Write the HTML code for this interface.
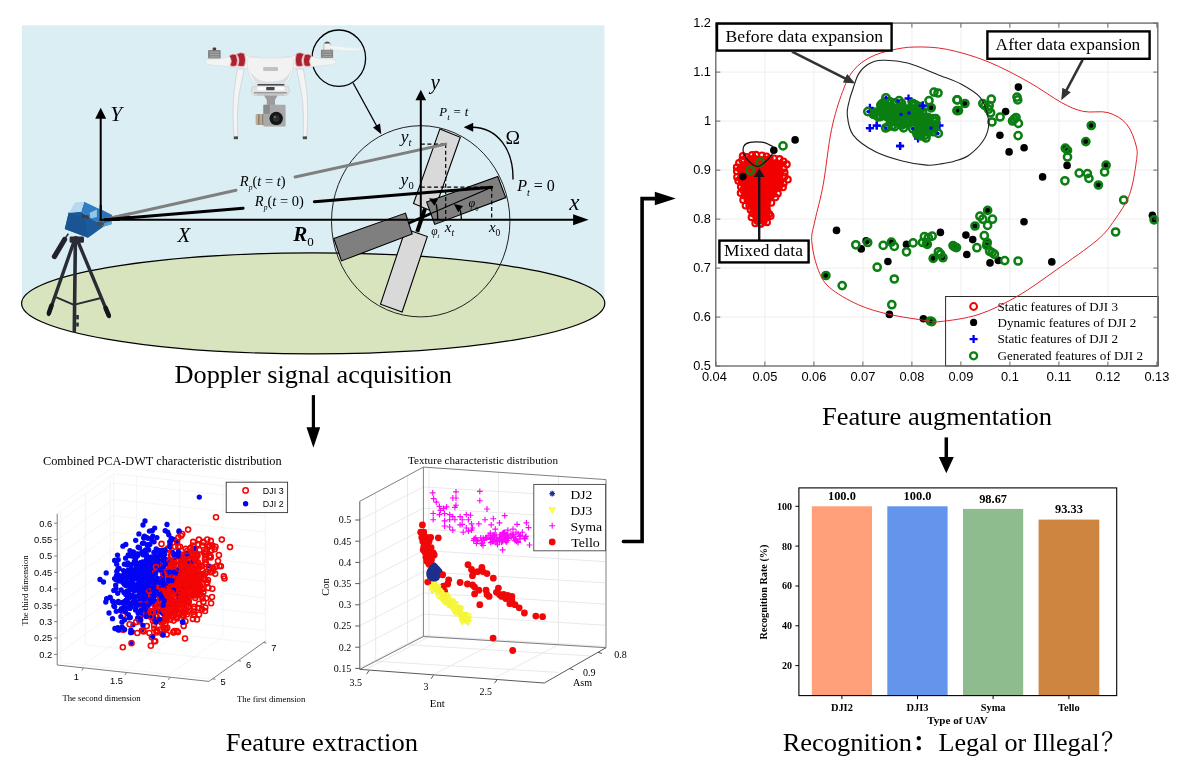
<!DOCTYPE html>
<html lang="en">
<head>
<meta charset="utf-8">
<title>UAV recognition pipeline</title>
<style>
html,body{margin:0;padding:0;background:#fff;}
body{width:1186px;height:772px;overflow:hidden;}
svg{display:block;}
text{font-family:"Liberation Serif", "Noto Serif CJK SC", serif;fill:#000;}
.sa{font-family:"Liberation Sans", sans-serif;}
.it{font-style:italic;}
</style>
</head>
<body>
<svg width="1186" height="772" viewBox="0 0 1186 772">
<g id="doppler">
<rect x="21.9" y="25.3" width="582.6" height="278.5" fill="#DBEEF4"/>
<ellipse cx="313.2" cy="303.4" rx="291.6" ry="50.5" fill="#D7E4BD" stroke="#000" stroke-width="1.2"/>
<ellipse cx="420.7" cy="221.3" rx="89.2" ry="95.6" fill="none" stroke="#222" stroke-width="1"/>
<polygon points="439.9,128.9 460.3,137.3 433.9,211.9 413.5,203.5" fill="#D9D9D9" stroke="#000" stroke-width="1.1" stroke-linejoin="miter"/>
<polygon points="405.6,229 427.3,236.6 402.1,312 380.5,304.2" fill="#D9D9D9" stroke="#000" stroke-width="1.1" stroke-linejoin="miter"/>
<polygon points="426.7,202.1 497.8,176.5 505.7,197.6 434.7,224.4" fill="#7F7F7F" stroke="#000" stroke-width="1.1"/>
<polygon points="333.8,238.5 405.5,213.1 412.2,234 341.5,260.9" fill="#7F7F7F" stroke="#000" stroke-width="1.1"/>
<line x1="420.8" y1="187.2" x2="491.7" y2="187.2" stroke="#000" stroke-width="1.2" stroke-dasharray="4 2.6"/>
<line x1="491.7" y1="187.2" x2="491.7" y2="219.8" stroke="#000" stroke-width="1.2" stroke-dasharray="4 2.6"/>
<line x1="420.8" y1="144.1" x2="445.7" y2="144.1" stroke="#000" stroke-width="1.2" stroke-dasharray="4 2.6"/>
<line x1="445.7" y1="144.1" x2="445.7" y2="219.8" stroke="#000" stroke-width="1.2" stroke-dasharray="4 2.6"/>
<line x1="108" y1="218.7" x2="236" y2="190.2" stroke="#7f7f7f" stroke-width="3" stroke-linecap="round"/>
<line x1="295.1" y1="177" x2="445.7" y2="144.1" stroke="#7f7f7f" stroke-width="3" stroke-linecap="round"/>
<line x1="108" y1="219.4" x2="243.1" y2="208.2" stroke="#000" stroke-width="3" stroke-linecap="round"/>
<line x1="314.3" y1="201.7" x2="491.7" y2="187.2" stroke="#000" stroke-width="3" stroke-linecap="round"/>
<line x1="408.4" y1="223.3" x2="491.7" y2="187.2" stroke="#000" stroke-width="1.2"/>
<line x1="408.4" y1="223.3" x2="431" y2="213.5" stroke="#000" stroke-width="2.8"/>
<line x1="425" y1="208.6" x2="417.2" y2="231.9" stroke="#000" stroke-width="4"/>
<line x1="100.7" y1="220.6" x2="100.7" y2="117" stroke="#000" stroke-width="2"/>
<polygon points="100.7,107.8 106.2,118.8 95.2,118.8" fill="#000"/>
<line x1="99.7" y1="219.8" x2="574" y2="219.8" stroke="#000" stroke-width="2"/>
<polygon points="588.6,219.8 573.1,225.3 573.1,214.3" fill="#000"/>
<line x1="420.8" y1="221" x2="420.8" y2="99" stroke="#000" stroke-width="2"/>
<polygon points="420.8,89.8 426.1,100.3 415.5,100.3" fill="#000"/>
<path d="M437.8 219.8 Q437.7 211 436.2 204" fill="none" stroke="#000" stroke-width="1.3"/>
<polygon points="428.9,198.3 438.1,198.9 434.4,205.8" fill="#000"/>
<path d="M461.4 219.8 Q461.3 214 460.2 210" fill="none" stroke="#000" stroke-width="1.3"/>
<polygon points="453.9,204.1 463,206.1 458.2,212.3" fill="#000"/>
<path d="M513 179.4 C513.5 150 498 127.5 472 127.2" fill="none" stroke="#000" stroke-width="1.4"/>
<polygon points="463.7,127.2 473.2,122.7 473.2,131.7" fill="#000"/>
<ellipse cx="338.8" cy="58.2" rx="26.8" ry="28.2" fill="none" stroke="#000" stroke-width="1.3"/>
<line x1="353" y1="82.7" x2="377.5" y2="127.5" stroke="#000" stroke-width="1.3"/>
<polygon points="381.3,134.3 373,127.5 380,123.6" fill="#000"/>
<g id="drone">
<path d="M 237.4 69 L 244.2 69 C 242.5 78 239 92 238 104 C 237.2 116 237.2 128 237.7 137.2 L 234.1 137.2 C 233 124 232.8 112 233.4 100 C 234 88 236 78 237.4 69 Z" fill="#f4f4f4" stroke="#ccd3d7" stroke-width=".8"/>
<path d="M 303.4 69 L 296.6 69 C 298.3 78 301.8 92 302.8 104 C 303.6 116 303.6 128 303.1 137.2 L 306.7 137.2 C 307.8 124 308 112 307.4 100 C 306.8 88 304.8 78 303.4 69 Z" fill="#f4f4f4" stroke="#ccd3d7" stroke-width=".8"/>
<path d="M 233.8 136.4 L 238 136.4 L 238 139.2 L 233.8 139.2 Z" fill="#4a4a4a"/>
<path d="M 307 136.4 L 302.8 136.4 L 302.8 139.2 L 307 139.2 Z" fill="#4a4a4a"/>
<path d="M 206.4 59.4 L 222 58.2 L 229 56.6 L 246 55.4 L 252 57 L 252 68.6 L 243 68.2 L 226 66.4 L 208 64.6 L 204.6 62.6 Z" fill="#f3f3f3" stroke="#d5dbde" stroke-width=".6"/>
<path d="M 334.4 59.4 L 318.8 58.2 L 311.8 56.6 L 294.8 55.4 L 288.8 57 L 288.8 68.6 L 297.8 68.2 L 314.8 66.4 L 332.8 64.6 L 336.2 62.6 Z" fill="#f3f3f3" stroke="#d5dbde" stroke-width=".6"/>
<path d="M247.2 62 C247.2 57.6 250 56 254.4 56.4 L260 57.8 L281 57.8 L286.4 56.4 C290.8 56 293.6 57.6 293.6 62 C293.6 75 288.6 84.6 281.6 84.6 L259.2 84.6 C252.2 84.6 247.2 75 247.2 62 Z" fill="#f2f2f2" stroke="#d6dcdf" stroke-width=".7"/>
<path d="M250 70 C252 79 256 84 260 84.6 L281 84.6 C285 84 289 79 291 70 C287 78 282 81.8 270.5 81.8 C259 81.8 254 78 250 70 Z" fill="#dcdfe1"/>
<path d="M 250.4 56.6 L 257 55.8 L 258.4 57.6 L 251 58 Z" fill="#dfe3e5"/>
<path d="M 290.4 56.6 L 283.8 55.8 L 282.4 57.6 L 289.8 58 Z" fill="#dfe3e5"/>
<rect x="263.2" y="67" width="14.8" height="4" rx=".8" fill="#c2c2c2"/>
<rect x="208" y="49.9" width="12.7" height="8.6" rx="1" fill="#858585"/>
<path d="M209.6 52.2h9.6M209.6 54.6h9.6M209.6 57h9.6" stroke="#a9a9a9" stroke-width="1"/>
<rect x="212.6" y="47.6" width="3.6" height="2.6" rx="1" fill="#3f3f3f"/>
<rect x="320.9" y="49.8" width="12.2" height="8.2" rx="1" fill="#858585"/>
<path d="M322.4 52h9.4M322.4 54.4h9.4M322.4 56.8h9.4" stroke="#a9a9a9" stroke-width="1"/>
<path d="M323.8 50 L323.8 44.2 C323.8 41.6 330.6 41.6 330.6 44.2 L330.6 50 Z" fill="#f0f0f0" stroke="#9a9a9a" stroke-width=".6"/>
<path d="M324.4 43.6 C324.6 41.2 329.8 41.2 330 43.6 Z" fill="#4a4a4a"/>
<path d="M329.5 45.6 L345 47.2 L360.4 48.8 L360.6 50.6 L344 50.6 L329.8 48.4 Z" fill="#f4f6f6" stroke="#e3eaed" stroke-width=".5"/>
<path d="M 229 55.8 Q 232.8 53 236.2 54.6 Q 238.6 60.4 236.6 65.8 Q 233 67.2 229.8 65.6 Q 232.8 60.6 229 55.8 Z" fill="#a8232f" stroke="#f0c4ca" stroke-width=".8"/>
<path d="M 311.8 55.8 Q 308 53 304.6 54.6 Q 302.2 60.4 304.2 65.8 Q 307.8 67.2 311 65.6 Q 308 60.6 311.8 55.8 Z" fill="#a8232f" stroke="#f0c4ca" stroke-width=".8"/>
<path d="M 236.6 54 Q 240.6 51.6 244.4 53.4 Q 246.6 60 244.6 65.9 Q 240.8 67.2 237.6 65.8 Q 240.6 60 236.6 54 Z" fill="#a8232f" stroke="#f0c4ca" stroke-width=".8"/>
<path d="M 304.2 54 Q 300.2 51.6 296.4 53.4 Q 294.2 60 296.2 65.9 Q 300 67.2 303.2 65.8 Q 300.2 60 304.2 54 Z" fill="#a8232f" stroke="#f0c4ca" stroke-width=".8"/>
<rect x="257.4" y="84" width="27" height="1.6" fill="#4d4d4d"/>
<path d="M252.4 86.6 L288.4 86.6 L289.8 91.4 L286.6 95.6 L254.2 95.6 L251 91.4 Z" fill="#e2e2e2" stroke="#bfc5c8" stroke-width=".6"/>
<rect x="257.4" y="86.4" width="27" height="4.2" rx="1" fill="#fbfbfb"/>
<rect x="266.2" y="87" width="8.4" height="3.2" rx=".6" fill="#454545"/>
<rect x="254" y="92" width="33" height="1.6" fill="#9c9c9c"/>
<rect x="257" y="94" width="27" height="1.4" fill="#c8c8c8"/>
<path d="M264 95.6 L277.5 95.6 L275 100 L275 106.5 L266.8 106.5 L266.8 100 Z" fill="#9b9b9b"/>
<rect x="255.6" y="114" width="11.6" height="11" rx="1.5" fill="#b9ab96"/>
<rect x="258" y="114" width="1.6" height="11" fill="#8f8271"/><rect x="262" y="114" width="1.6" height="11" fill="#8f8271"/>
<rect x="263.4" y="104.8" width="22.2" height="21.8" rx="1.2" fill="#a9a9a9"/>
<rect x="263.4" y="104.8" width="6.5" height="9" fill="#8b8b8b"/>
<circle cx="276.2" cy="118.4" r="6.7" fill="#161616"/><circle cx="276.2" cy="118.4" r="3.4" fill="#2d2d33"/><circle cx="274.8" cy="116.9" r="1" fill="#777"/>
</g>
<g id="radar">
<line x1="75.2" y1="238" x2="48.6" y2="314.5" stroke="#2a2c35" stroke-width="3.4" stroke-linecap="round"/>
<line x1="75.4" y1="238" x2="74.3" y2="331" stroke="#2a2c35" stroke-width="3.6" stroke-linecap="round"/>
<line x1="76.5" y1="238" x2="109.2" y2="316.6" stroke="#2a2c35" stroke-width="3.4" stroke-linecap="round"/>
<line x1="55.8" y1="297.2" x2="73.4" y2="304.6" stroke="#2a2c35" stroke-width="2"/>
<line x1="74.6" y1="304.6" x2="100" y2="298.2" stroke="#2a2c35" stroke-width="2"/>
<rect x="76.2" y="315" width="2.6" height="4.4" fill="#2a2c35"/><rect x="76.2" y="322.5" width="2.6" height="4" fill="#2a2c35"/>
<line x1="48.9" y1="313" x2="51.5" y2="305.5" stroke="#15161b" stroke-width="4.6" stroke-linecap="round"/>
<line x1="108.8" y1="315.5" x2="105.6" y2="308" stroke="#15161b" stroke-width="4.6" stroke-linecap="round"/>
<rect x="69.6" y="236.4" width="14.4" height="6.4" rx="1.4" fill="#2a2c35"/>
<line x1="68.4" y1="233.6" x2="64.4" y2="239.5" stroke="#2a2c35" stroke-width="1.6"/>
<line x1="64.6" y1="239.5" x2="54.4" y2="256.6" stroke="#22232a" stroke-width="5.2" stroke-linecap="round"/>
<polygon points="68.7,212.6 81.1,211.8 97,222 103.7,226.5 88.1,237.8 64.8,229" fill="#1c5b9b"/>
<polygon points="68.7,212.6 85,219.4 88.1,237.8 64.8,229" fill="#1a5492"/>
<polygon points="84.2,201.7 97.4,207.9 101.3,209.4 99,223.4 81.1,211.8" fill="#2f7ec4"/>
<polygon points="74.9,202.4 84.2,201.7 81.1,211.8 69.2,212.8" fill="#b7d8ee"/>
<polygon points="89.7,212.8 96.9,209.6 96.9,217 90.4,218.4" fill="#93c6e8"/>
<polygon points="101.3,209.4 112.2,214.9 111.4,224.2 103.7,226.5 98.6,223" fill="#2a72b5"/>
<polygon points="104,223.4 111.5,221.2 111.4,224.2 103.7,226.5" fill="#5f9fd0"/>
<polygon points="81.2,214.2 88.8,215.6 88.6,219 81.4,217.8" fill="#3c3f45"/>
<polygon points="96.7,222 103.6,222.6 103.4,225.4 97,224.6" fill="#54463f"/>
</g>
<line x1="100.7" y1="220.6" x2="100.7" y2="205" stroke="#000" stroke-width="2"/>
<line x1="99.7" y1="219.8" x2="120" y2="219.8" stroke="#000" stroke-width="2"/>
<line x1="108" y1="218.7" x2="130" y2="213.8" stroke="#7f7f7f" stroke-width="3"/>
<line x1="104" y1="219.7" x2="130" y2="217.6" stroke="#000" stroke-width="3"/>
<text x="110.2" y="121.4" font-size="21.5" font-style="italic">Y</text>
<text x="177.6" y="241.8" font-size="21" font-style="italic">X</text>
<text x="293.2" y="240.6" font-size="21" font-weight="bold" font-style="italic">R<tspan font-size="13" dy="5.4" font-style="normal" font-weight="normal">0</tspan></text>
<text x="569.2" y="209.6" font-size="23" font-style="italic">x</text>
<text x="430.4" y="88.6" font-size="21" font-style="italic">y</text>
<text x="439.3" y="116.3" font-size="12.8" font-style="italic">P<tspan font-size="9" dy="3.4">t</tspan><tspan dy="-3.4"> = t</tspan></text>
<text x="505.6" y="144.1" font-size="19.5">&#937;</text>
<text x="517.2" y="191.2" font-size="16" font-style="italic">P<tspan font-size="10" dy="4.6">t</tspan><tspan dy="-4.6" font-style="normal"> = 0</tspan></text>
<text x="400.8" y="141.6" font-size="17.5" font-style="italic">y<tspan font-size="10.5" dy="4.4">t</tspan></text>
<text x="400.6" y="185" font-size="17.5" font-style="italic">y<tspan font-size="10.5" dy="4" font-style="normal">0</tspan></text>
<text x="444.8" y="231.5" font-size="15" font-style="italic">x<tspan font-size="9.5" dy="4.2">t</tspan></text>
<text x="488.9" y="231.5" font-size="15" font-style="italic">x<tspan font-size="9.5" dy="4.6" font-style="normal">0</tspan></text>
<text x="431.2" y="235.2" font-size="11.5" font-style="italic">&#966;<tspan font-size="6.5" dy="3.2">t</tspan></text>
<text x="468.6" y="207.4" font-size="12" font-style="italic" fill="#222">&#966;<tspan font-size="6.5" dy="3.2" font-style="normal">0</tspan></text>
<text x="239.8" y="185.5" font-size="14.5" font-style="italic">R<tspan font-size="7.5" dy="4">p</tspan><tspan dy="-4" font-style="normal">(</tspan>t<tspan font-style="normal"> = </tspan>t<tspan font-style="normal">)</tspan></text>
<text x="254.8" y="205.8" font-size="14.5" font-style="italic">R<tspan font-size="7.5" dy="4">p</tspan><tspan dy="-4" font-style="normal">(</tspan>t<tspan font-style="normal"> = 0)</tspan></text>
<text x="174.5" y="382.6" font-size="24.5" textLength="277.5" lengthAdjust="spacingAndGlyphs">Doppler signal acquisition</text>
</g>
<g id="augment">
<rect x="715.8" y="23.1" width="442" height="342.9" fill="#fff"/>
<path d="M764.9 23.1V366M813.9 23.1V366M862.9 23.1V366M911.9 23.1V366M960.9 23.1V366M1009.9 23.1V366M1058.9 23.1V366M1107.9 23.1V366M715.8 317.1H1157.8M715.8 268.1H1157.8M715.8 219.1H1157.8M715.8 170.1H1157.8M715.8 121.1H1157.8M715.8 72.1H1157.8" stroke="#eeeeee" stroke-width="1" fill="none"/>
<path d="M744.4 159.4C745.8 158.6 749.7 157.9 752.3 157.6C754.8 157.3 757.2 157.3 759.7 157.6C762.1 157.9 764.9 158.8 767 159.4C769.2 159.9 770.2 160.9 772.3 161.1C774.4 161.3 777.9 159.4 779.7 160.5C781.5 161.7 782.5 165.9 782.9 168.1C783.2 170.4 781.5 171.9 781.8 174C782.1 176 784.4 178.2 784.4 180.4C784.4 182.5 782.9 185.2 781.8 186.8C780.7 188.5 778.5 188.8 777.6 190.3C776.7 191.9 777.4 194.6 776.5 196.2C775.7 197.7 773.5 198.1 772.3 199.7C771.1 201.2 769.5 203.6 769.2 205.5C768.8 207.5 770.4 209.6 770.2 211.3C770 213.1 769.3 214.7 768.1 216C766.9 217.4 764.6 218.7 762.8 219.5C761.1 220.3 759 221.3 757.6 220.7C756.2 220.1 755.3 217.8 754.4 216C753.5 214.3 753.3 211.9 752.3 210.2C751.2 208.4 749.3 207.5 748.1 205.5C746.8 203.6 745.8 200.8 744.9 198.5C744 196.2 743.2 193.8 742.8 191.5C742.4 189.2 742.6 186.6 742.3 184.5C741.9 182.3 741.1 180.8 740.7 178.6C740.3 176.5 739.5 173.6 739.6 171.6C739.8 169.7 741 168.5 741.7 167C742.5 165.4 743.4 163.6 743.9 162.3C744.3 161 743 160.1 744.4 159.4Z" fill="#f20000"/>
<g fill="none" stroke="#f20000" stroke-width="2.1">
<circle cx="750" cy="159" r="2.95"/><circle cx="743.2" cy="200" r="2.95"/><circle cx="783.5" cy="161.5" r="2.95"/><circle cx="767.5" cy="200.9" r="2.95"/><circle cx="744.6" cy="195.4" r="2.95"/><circle cx="763.7" cy="221.3" r="2.95"/><circle cx="779.5" cy="159.1" r="2.95"/><circle cx="749.3" cy="205.8" r="2.95"/><circle cx="736.8" cy="167.3" r="2.95"/><circle cx="742.2" cy="160" r="2.95"/><circle cx="769.8" cy="158.8" r="2.95"/><circle cx="764.2" cy="213" r="2.95"/><circle cx="745.6" cy="205.6" r="2.95"/><circle cx="743" cy="165.5" r="2.95"/><circle cx="779" cy="187.1" r="2.95"/><circle cx="757.5" cy="221" r="2.95"/><circle cx="741.3" cy="173.4" r="2.95"/><circle cx="746.4" cy="157.1" r="2.95"/><circle cx="783.7" cy="168.2" r="2.95"/><circle cx="766.8" cy="206.2" r="2.95"/><circle cx="777.8" cy="193.4" r="2.95"/><circle cx="740.9" cy="186.8" r="2.95"/><circle cx="783.7" cy="183.2" r="2.95"/><circle cx="761.7" cy="217.8" r="2.95"/><circle cx="759.2" cy="159.5" r="2.95"/><circle cx="787.8" cy="179.5" r="2.95"/><circle cx="737.1" cy="177" r="2.95"/><circle cx="753.3" cy="179.8" r="2.95"/><circle cx="740.9" cy="178.1" r="2.95"/><circle cx="755.9" cy="215.8" r="2.95"/><circle cx="752.6" cy="213.3" r="2.95"/><circle cx="772.3" cy="163.5" r="2.95"/><circle cx="752.1" cy="155.1" r="2.95"/><circle cx="761.9" cy="155.5" r="2.95"/><circle cx="775.2" cy="189" r="2.95"/><circle cx="764.9" cy="159.8" r="2.95"/><circle cx="784.7" cy="176.5" r="2.95"/><circle cx="771.3" cy="202.7" r="2.95"/><circle cx="780.4" cy="164.1" r="2.95"/><circle cx="775.4" cy="197.3" r="2.95"/><circle cx="756" cy="154.8" r="2.95"/><circle cx="774" cy="158.5" r="2.95"/><circle cx="776.4" cy="162.9" r="2.95"/><circle cx="767" cy="210.2" r="2.95"/><circle cx="736.9" cy="171.2" r="2.95"/><circle cx="743.1" cy="190.1" r="2.95"/><circle cx="757.9" cy="199.7" r="2.95"/><circle cx="772" cy="191.7" r="2.95"/><circle cx="739" cy="163" r="2.95"/><circle cx="750.5" cy="209.7" r="2.95"/><circle cx="741.7" cy="182.4" r="2.95"/><circle cx="756.4" cy="196.2" r="2.95"/><circle cx="740.5" cy="169.3" r="2.95"/><circle cx="767.1" cy="217" r="2.95"/><circle cx="747.6" cy="200.2" r="2.95"/><circle cx="770.1" cy="197.1" r="2.95"/><circle cx="786.8" cy="164.3" r="2.95"/><circle cx="780.1" cy="171.9" r="2.95"/><circle cx="740.7" cy="193" r="2.95"/><circle cx="754.4" cy="158.8" r="2.95"/><circle cx="750" cy="198.2" r="2.95"/><circle cx="755.9" cy="210.6" r="2.95"/><circle cx="782.9" cy="187.3" r="2.95"/><circle cx="760.5" cy="178" r="2.95"/><circle cx="761.6" cy="201.3" r="2.95"/><circle cx="751.7" cy="199" r="2.95"/><circle cx="784.6" cy="172.6" r="2.95"/><circle cx="760.7" cy="223.8" r="2.95"/><circle cx="760.8" cy="173.9" r="2.95"/><circle cx="774.7" cy="183.1" r="2.95"/><circle cx="763.4" cy="176.5" r="2.95"/><circle cx="759.8" cy="205.5" r="2.95"/><circle cx="764.3" cy="178.2" r="2.95"/><circle cx="768.9" cy="191.3" r="2.95"/><circle cx="772.4" cy="184.7" r="2.95"/><circle cx="775.3" cy="165.9" r="2.95"/><circle cx="769.7" cy="191.1" r="2.95"/><circle cx="751.3" cy="185.1" r="2.95"/><circle cx="757.3" cy="166" r="2.95"/><circle cx="773.8" cy="184.1" r="2.95"/><circle cx="750.6" cy="195.6" r="2.95"/><circle cx="774" cy="166.5" r="2.95"/><circle cx="766.4" cy="167.1" r="2.95"/><circle cx="759.6" cy="213.9" r="2.95"/><circle cx="749.5" cy="161.1" r="2.95"/><circle cx="768.6" cy="168.3" r="2.95"/><circle cx="777.5" cy="183.2" r="2.95"/><circle cx="763.2" cy="181" r="2.95"/><circle cx="763.2" cy="177" r="2.95"/><circle cx="761.7" cy="186.2" r="2.95"/><circle cx="755.1" cy="167" r="2.95"/><circle cx="765.3" cy="166.8" r="2.95"/><circle cx="751.2" cy="185.1" r="2.95"/><circle cx="760.9" cy="191.6" r="2.95"/><circle cx="750.6" cy="167.1" r="2.95"/><circle cx="746.8" cy="191.8" r="2.95"/><circle cx="768.2" cy="162.5" r="2.95"/><circle cx="750.8" cy="168" r="2.95"/><circle cx="763.2" cy="208.6" r="2.95"/><circle cx="742.8" cy="156.1" r="2.95"/><circle cx="766.6" cy="156.4" r="2.95"/><circle cx="769.6" cy="180" r="2.95"/><circle cx="768.9" cy="189.3" r="2.95"/><circle cx="745.9" cy="167.3" r="2.95"/><circle cx="744.8" cy="184.9" r="2.95"/><circle cx="748.2" cy="166" r="2.95"/><circle cx="769.3" cy="214" r="2.95"/><circle cx="761.4" cy="215.5" r="2.95"/><circle cx="752.8" cy="203.1" r="2.95"/><circle cx="768.1" cy="168" r="2.95"/><circle cx="766.4" cy="165.4" r="2.95"/><circle cx="738.3" cy="180.8" r="2.95"/><circle cx="744.8" cy="165.8" r="2.95"/><circle cx="757.7" cy="195.8" r="2.95"/><circle cx="770.2" cy="188.2" r="2.95"/><circle cx="755.5" cy="198.8" r="2.95"/><circle cx="757.4" cy="193.9" r="2.95"/><circle cx="748.3" cy="198.1" r="2.95"/><circle cx="753.7" cy="207.3" r="2.95"/><circle cx="744.7" cy="177.1" r="2.95"/><circle cx="759.6" cy="213.1" r="2.95"/><circle cx="749.5" cy="190.4" r="2.95"/><circle cx="758" cy="191" r="2.95"/><circle cx="768.7" cy="172.7" r="2.95"/><circle cx="752.5" cy="199.6" r="2.95"/><circle cx="766" cy="179.5" r="2.95"/><circle cx="762.1" cy="162.1" r="2.95"/><circle cx="767.5" cy="188.6" r="2.95"/><circle cx="779.6" cy="174.3" r="2.95"/><circle cx="758.2" cy="200.6" r="2.95"/><circle cx="760.1" cy="199.9" r="2.95"/><circle cx="772" cy="169.5" r="2.95"/><circle cx="757.2" cy="202.1" r="2.95"/><circle cx="760.1" cy="215" r="2.95"/><circle cx="758" cy="183.9" r="2.95"/><circle cx="761.7" cy="199.6" r="2.95"/><circle cx="762.4" cy="213.1" r="2.95"/><circle cx="754.5" cy="173.7" r="2.95"/><circle cx="763.6" cy="170.3" r="2.95"/><circle cx="771.7" cy="186.6" r="2.95"/><circle cx="743.3" cy="172.1" r="2.95"/><circle cx="752.1" cy="204.2" r="2.95"/><circle cx="747" cy="194.6" r="2.95"/><circle cx="755.3" cy="223.3" r="2.95"/><circle cx="767" cy="222.2" r="2.95"/><circle cx="761" cy="223.6" r="2.95"/><circle cx="751.6" cy="217.2" r="2.95"/><circle cx="770.6" cy="216" r="2.95"/><circle cx="764" cy="219" r="2.95"/><circle cx="757.5" cy="219" r="2.95"/>
</g>
<g fill="#000">
<circle cx="795.1" cy="139.9" r="3.8"/><circle cx="773.8" cy="150.3" r="3.8"/><circle cx="742.8" cy="176.6" r="3.8"/><circle cx="1018.4" cy="87.1" r="3.8"/><circle cx="1005.6" cy="111.6" r="3.8"/><circle cx="999.9" cy="135.3" r="3.8"/><circle cx="1024.1" cy="147.7" r="3.8"/><circle cx="1009.1" cy="151.9" r="3.8"/><circle cx="1042.6" cy="176.9" r="3.8"/><circle cx="1067.1" cy="165.4" r="3.8"/><circle cx="1152.4" cy="215.4" r="3.8"/><circle cx="836.5" cy="230.4" r="3.8"/><circle cx="861.2" cy="248.9" r="3.8"/><circle cx="866.1" cy="240.9" r="3.8"/><circle cx="906.5" cy="244.4" r="3.8"/><circle cx="940.4" cy="232.4" r="3.8"/><circle cx="887.9" cy="261.5" r="3.8"/><circle cx="889.4" cy="314.4" r="3.8"/><circle cx="923.4" cy="318.7" r="3.8"/><circle cx="965.9" cy="235.1" r="3.8"/><circle cx="972.7" cy="239.6" r="3.8"/><circle cx="966.8" cy="254.5" r="3.8"/><circle cx="990" cy="262.9" r="3.8"/><circle cx="998.3" cy="260.4" r="3.8"/><circle cx="1024" cy="221.7" r="3.8"/><circle cx="1051.8" cy="261.9" r="3.8"/>
<circle cx="964.3" cy="103.1" r="3.2"/><circle cx="957.9" cy="110.2" r="3.2"/><circle cx="930.6" cy="107.4" r="3.2"/><circle cx="1090.7" cy="125.1" r="3.2"/><circle cx="1085.2" cy="141.2" r="3.2"/><circle cx="1064.7" cy="147.8" r="3.2"/><circle cx="1066.9" cy="150" r="3.2"/><circle cx="1105.5" cy="164.8" r="3.2"/><circle cx="1097.8" cy="184.6" r="3.2"/><circle cx="1153.5" cy="219.4" r="3.2"/><circle cx="890.8" cy="241.7" r="3.2"/><circle cx="932.6" cy="258" r="3.2"/><circle cx="942.3" cy="257.3" r="3.2"/><circle cx="953.9" cy="246.4" r="3.2"/><circle cx="825.3" cy="275.1" r="3.2"/><circle cx="931.2" cy="321.2" r="3.2"/><circle cx="974.4" cy="225.6" r="3.2"/><circle cx="987" cy="210" r="3.2"/><circle cx="986.6" cy="242.1" r="3.2"/><circle cx="986.1" cy="245" r="3.2"/><circle cx="955.9" cy="247.2" r="3.2"/><circle cx="925.9" cy="243.2" r="3.2"/>
</g>
<path d="M865.9 128.1h8M869.9 124.1v8M872.8 125.6h8M876.8 121.6v8M896.1 146h8M900.1 142v8M918.7 105.6h8M922.7 101.6v8M915.1 115.6h8M919.1 111.6v8M865.9 107.8h8M869.9 103.8v8M868.8 112.8h8M872.8 108.8v8M904.5 98.5h8M908.5 94.5v8M935.5 125.5h8M939.5 121.5v8M914 138.5h8M918 134.5v8M927 128.5h8M931 124.5v8" stroke="#0000f5" stroke-width="2.3" fill="none"/>
<path d="M874.3 113.3C874.8 112.3 876.5 110.3 878 109.5C879.5 108.7 881.7 109.5 883.3 108.6C884.8 107.6 886.1 104.9 887.5 103.9C888.9 102.8 890.5 102 891.7 102C892.9 102 893.8 103.1 894.9 103.9C895.9 104.6 897.1 106.2 898 106.2C899 106.2 899.6 104.1 900.7 103.9C901.7 103.6 903.2 104.7 904.4 104.8C905.5 104.9 906.1 104.2 907.5 104.3C908.9 104.4 911.4 104.7 912.8 105.3C914.2 105.8 914.7 106.4 916 107.6C917.2 108.8 918.8 111.2 920.2 112.3C921.6 113.4 922.6 113.6 924.4 114.2C926.2 114.8 929.1 115.3 930.7 116.1C932.3 116.9 933.4 117.6 933.9 118.9C934.3 120.2 933.7 122 933.4 123.6C933 125.2 932.6 127.2 931.8 128.3C931 129.4 929.8 129.9 928.6 130.2C927.4 130.5 925.4 129.8 924.4 130.2C923.3 130.6 923.3 132.1 922.3 132.5C921.2 133 919.4 133.4 918.1 133C916.7 132.6 915.1 131.3 914.4 130.2C913.7 129.1 914.6 126.9 913.8 126.4C913.1 126 910.9 127.2 909.6 127.4C908.4 127.5 907.5 127 906.5 127.4C905.4 127.8 904.5 129.4 903.3 129.7C902.1 130 900.5 129.8 899.1 129.2C897.7 128.7 896.3 126.9 894.9 126.4C893.5 126 891.9 126.9 890.6 126.4C889.4 126 888.4 124.7 887.5 123.6C886.6 122.5 886.3 120.9 885.4 119.8C884.5 118.7 883.4 117.6 882.2 117C881 116.4 879.2 116.4 878 116.1C876.8 115.8 875.4 115.6 874.8 115.1C874.2 114.7 873.8 114.2 874.3 113.3Z" fill="#0b7f12"/>
<g fill="none" stroke="#0b7f12" stroke-width="2.5">
<circle cx="783" cy="145.9" r="3.6"/><circle cx="760.2" cy="162.4" r="3.6"/><circle cx="750.3" cy="170.3" r="3.6"/><circle cx="867.8" cy="111.6" r="3.6"/><circle cx="885.9" cy="97.8" r="3.6"/><circle cx="899.1" cy="100.6" r="3.6"/><circle cx="934" cy="92.1" r="3.6"/><circle cx="938" cy="93" r="3.6"/><circle cx="929" cy="100.6" r="3.6"/><circle cx="956.9" cy="99.9" r="3.6"/><circle cx="956.9" cy="110.6" r="3.6"/><circle cx="885.6" cy="128" r="3.6"/><circle cx="912.7" cy="128.7" r="3.6"/><circle cx="938.3" cy="133.4" r="3.6"/><circle cx="921" cy="136" r="3.6"/><circle cx="926" cy="138" r="3.6"/><circle cx="918" cy="132.5" r="3.6"/><circle cx="957.4" cy="99.9" r="3.6"/><circle cx="982.8" cy="103.5" r="3.6"/><circle cx="984.9" cy="105.6" r="3.6"/><circle cx="988.5" cy="109.2" r="3.6"/><circle cx="990.6" cy="112.8" r="3.6"/><circle cx="991.3" cy="99.2" r="3.6"/><circle cx="989.2" cy="105.6" r="3.6"/><circle cx="992" cy="122" r="3.6"/><circle cx="1000.1" cy="117" r="3.6"/><circle cx="1017" cy="97.1" r="3.6"/><circle cx="1017.7" cy="99.9" r="3.6"/><circle cx="1014.1" cy="119.2" r="3.6"/><circle cx="1016" cy="117.5" r="3.6"/><circle cx="1012.5" cy="121" r="3.6"/><circle cx="1018.4" cy="123.4" r="3.6"/><circle cx="1018.1" cy="135.6" r="3.6"/><circle cx="1067.5" cy="157" r="3.6"/><circle cx="1064.9" cy="180.8" r="3.6"/><circle cx="1079.2" cy="173.1" r="3.6"/><circle cx="1087.4" cy="173.6" r="3.6"/><circle cx="1088.9" cy="178.4" r="3.6"/><circle cx="1104.6" cy="172" r="3.6"/><circle cx="1123.7" cy="200" r="3.6"/><circle cx="1115.6" cy="232" r="3.6"/><circle cx="855.8" cy="244.8" r="3.6"/><circle cx="867.7" cy="242.5" r="3.6"/><circle cx="883.2" cy="245.4" r="3.6"/><circle cx="894.3" cy="246.4" r="3.6"/><circle cx="913.1" cy="242.9" r="3.6"/><circle cx="906.5" cy="251.8" r="3.6"/><circle cx="924.4" cy="236.7" r="3.6"/><circle cx="928.3" cy="237.6" r="3.6"/><circle cx="932.2" cy="236.1" r="3.6"/><circle cx="922.5" cy="242.5" r="3.6"/><circle cx="927.3" cy="244.4" r="3.6"/><circle cx="938.4" cy="251.8" r="3.6"/><circle cx="877.2" cy="267.2" r="3.6"/><circle cx="894.3" cy="279" r="3.6"/><circle cx="842.2" cy="285.6" r="3.6"/><circle cx="891.8" cy="304.7" r="3.6"/><circle cx="930.2" cy="321" r="3.6"/><circle cx="976.9" cy="247.7" r="3.6"/><circle cx="979.9" cy="216.2" r="3.6"/><circle cx="982.8" cy="219.2" r="3.6"/><circle cx="992.5" cy="219.2" r="3.6"/><circle cx="987.6" cy="225.4" r="3.6"/><circle cx="984.3" cy="235.7" r="3.6"/><circle cx="989.6" cy="251.2" r="3.6"/><circle cx="992.1" cy="252.6" r="3.6"/><circle cx="994.4" cy="254.2" r="3.6"/><circle cx="1004.7" cy="260.6" r="3.6"/><circle cx="1018.1" cy="261" r="3.6"/><circle cx="953" cy="245.6" r="3.6"/><circle cx="940.5" cy="254" r="3.6"/><circle cx="964.9" cy="103.5" r="3.6"/><circle cx="958.5" cy="110.6" r="3.6"/><circle cx="931.2" cy="107.8" r="3.6"/><circle cx="1091.3" cy="125.5" r="3.6"/><circle cx="1085.8" cy="141.6" r="3.6"/><circle cx="1065.3" cy="148.2" r="3.6"/><circle cx="1067.5" cy="150.4" r="3.6"/><circle cx="1106.1" cy="165.2" r="3.6"/><circle cx="1098.4" cy="185" r="3.6"/><circle cx="1154.1" cy="219.8" r="3.6"/><circle cx="891.4" cy="242.1" r="3.6"/><circle cx="933.2" cy="258.4" r="3.6"/><circle cx="942.9" cy="257.7" r="3.6"/><circle cx="954.5" cy="246.8" r="3.6"/><circle cx="825.9" cy="275.5" r="3.6"/><circle cx="931.8" cy="321.6" r="3.6"/><circle cx="975" cy="226" r="3.6"/><circle cx="987.6" cy="210.4" r="3.6"/><circle cx="987.2" cy="242.5" r="3.6"/><circle cx="986.7" cy="245.4" r="3.6"/><circle cx="956.5" cy="247.6" r="3.6"/><circle cx="926.5" cy="243.6" r="3.6"/><circle cx="890.5" cy="112.8" r="3.6"/><circle cx="933.4" cy="131.7" r="3.6"/><circle cx="925.6" cy="119.8" r="3.6"/><circle cx="919.4" cy="125.4" r="3.6"/><circle cx="921.9" cy="126.1" r="3.6"/><circle cx="878.3" cy="116.8" r="3.6"/><circle cx="894.3" cy="103.4" r="3.6"/><circle cx="895.2" cy="112.3" r="3.6"/><circle cx="919.6" cy="110.7" r="3.6"/><circle cx="880.6" cy="110.1" r="3.6"/><circle cx="912.3" cy="110.6" r="3.6"/><circle cx="911" cy="115.7" r="3.6"/><circle cx="923.9" cy="127" r="3.6"/><circle cx="899.8" cy="123.3" r="3.6"/><circle cx="887.9" cy="126.7" r="3.6"/><circle cx="919.6" cy="112.5" r="3.6"/><circle cx="917.7" cy="111.1" r="3.6"/><circle cx="887.2" cy="116.3" r="3.6"/><circle cx="889.6" cy="103.2" r="3.6"/><circle cx="901" cy="106.4" r="3.6"/><circle cx="890.4" cy="106.7" r="3.6"/><circle cx="917.5" cy="108.4" r="3.6"/><circle cx="903.6" cy="127.8" r="3.6"/><circle cx="912.1" cy="115.6" r="3.6"/><circle cx="931.6" cy="124.7" r="3.6"/><circle cx="926.1" cy="118" r="3.6"/><circle cx="874.1" cy="114.4" r="3.6"/><circle cx="909.2" cy="122.2" r="3.6"/><circle cx="915.5" cy="113.5" r="3.6"/><circle cx="885.9" cy="116" r="3.6"/><circle cx="920.1" cy="109.2" r="3.6"/><circle cx="891.5" cy="119.3" r="3.6"/><circle cx="892.5" cy="108.7" r="3.6"/><circle cx="894.8" cy="114.4" r="3.6"/><circle cx="889.7" cy="119.1" r="3.6"/><circle cx="920.3" cy="124.2" r="3.6"/><circle cx="928.6" cy="132.4" r="3.6"/><circle cx="877.1" cy="115.6" r="3.6"/><circle cx="923" cy="126.3" r="3.6"/><circle cx="882" cy="108.7" r="3.6"/><circle cx="933.7" cy="126.4" r="3.6"/><circle cx="930" cy="125.1" r="3.6"/><circle cx="906.6" cy="110.3" r="3.6"/><circle cx="891.7" cy="117.3" r="3.6"/><circle cx="910.1" cy="115.2" r="3.6"/><circle cx="880.8" cy="105.3" r="3.6"/><circle cx="898.6" cy="110.7" r="3.6"/><circle cx="918.4" cy="111.9" r="3.6"/><circle cx="916.5" cy="107.9" r="3.6"/><circle cx="916.5" cy="118" r="3.6"/><circle cx="892.4" cy="107.7" r="3.6"/><circle cx="919" cy="121.2" r="3.6"/><circle cx="893.5" cy="112.7" r="3.6"/><circle cx="912.5" cy="103.3" r="3.6"/><circle cx="899.2" cy="110.5" r="3.6"/><circle cx="884.3" cy="109.8" r="3.6"/><circle cx="933.2" cy="118.7" r="3.6"/><circle cx="913.3" cy="104.1" r="3.6"/><circle cx="892.7" cy="108.8" r="3.6"/><circle cx="888.2" cy="116.6" r="3.6"/><circle cx="915.4" cy="104.8" r="3.6"/><circle cx="884.1" cy="102.7" r="3.6"/><circle cx="918.9" cy="126.7" r="3.6"/><circle cx="918.6" cy="114.3" r="3.6"/><circle cx="894.5" cy="102.8" r="3.6"/><circle cx="922.6" cy="111.3" r="3.6"/><circle cx="894.1" cy="110.7" r="3.6"/><circle cx="880.5" cy="116.6" r="3.6"/><circle cx="882.7" cy="109" r="3.6"/><circle cx="886.7" cy="112.4" r="3.6"/><circle cx="920.4" cy="108.9" r="3.6"/><circle cx="915.5" cy="121.8" r="3.6"/><circle cx="918.4" cy="106.3" r="3.6"/><circle cx="925.4" cy="129.3" r="3.6"/><circle cx="895.8" cy="118.5" r="3.6"/><circle cx="873.4" cy="114.4" r="3.6"/><circle cx="903.7" cy="111.2" r="3.6"/><circle cx="909.9" cy="112.3" r="3.6"/><circle cx="918" cy="107.6" r="3.6"/><circle cx="924.8" cy="135.3" r="3.6"/><circle cx="887.5" cy="116.6" r="3.6"/><circle cx="881.8" cy="107.5" r="3.6"/><circle cx="889.8" cy="101.6" r="3.6"/><circle cx="930.3" cy="129.4" r="3.6"/><circle cx="912" cy="112.1" r="3.6"/><circle cx="900.5" cy="122.1" r="3.6"/><circle cx="926.4" cy="122" r="3.6"/><circle cx="884.4" cy="102.3" r="3.6"/><circle cx="875.9" cy="112.2" r="3.6"/><circle cx="892.1" cy="125.5" r="3.6"/><circle cx="891" cy="108.8" r="3.6"/><circle cx="912.8" cy="115.1" r="3.6"/><circle cx="907.2" cy="117.9" r="3.6"/><circle cx="917.1" cy="134.2" r="3.6"/><circle cx="920.7" cy="116.1" r="3.6"/><circle cx="935.5" cy="121.7" r="3.6"/><circle cx="918.6" cy="133.9" r="3.6"/><circle cx="919" cy="121.1" r="3.6"/><circle cx="909.7" cy="122.3" r="3.6"/><circle cx="917.5" cy="129.7" r="3.6"/><circle cx="890.3" cy="115.3" r="3.6"/><circle cx="904.4" cy="121.7" r="3.6"/><circle cx="912.5" cy="105.3" r="3.6"/><circle cx="887.7" cy="106.9" r="3.6"/><circle cx="925.1" cy="119.1" r="3.6"/><circle cx="881.9" cy="112.5" r="3.6"/><circle cx="881.9" cy="107.5" r="3.6"/><circle cx="889.6" cy="114.8" r="3.6"/><circle cx="894.5" cy="126.7" r="3.6"/><circle cx="918.9" cy="117.1" r="3.6"/><circle cx="882.5" cy="108.7" r="3.6"/><circle cx="900.5" cy="113.8" r="3.6"/><circle cx="895.7" cy="115.1" r="3.6"/><circle cx="901.6" cy="103.5" r="3.6"/><circle cx="916.5" cy="132" r="3.6"/><circle cx="935.8" cy="118.7" r="3.6"/><circle cx="927.9" cy="117.4" r="3.6"/><circle cx="882.1" cy="103.7" r="3.6"/><circle cx="934.9" cy="125.4" r="3.6"/><circle cx="895.7" cy="120.1" r="3.6"/>
</g>
<path d="M865.9 128.1h8M869.9 124.1v8M872.8 125.6h8M876.8 121.6v8M896.1 146h8M900.1 142v8M918.7 105.6h8M922.7 101.6v8" stroke="#0000f5" stroke-width="2.3" fill="none"/>
<g fill="#0000f5"><circle cx="901" cy="114.5" r="1.7"/><circle cx="909" cy="113" r="1.7"/><circle cx="898" cy="101" r="1.7"/><circle cx="886" cy="97.5" r="1.7"/><circle cx="868" cy="111.6" r="1.7"/><circle cx="912.5" cy="128.5" r="1.7"/><circle cx="886" cy="128" r="1.7"/><circle cx="938" cy="133.5" r="1.7"/><circle cx="931" cy="128" r="1.7"/></g>
<rect x="945.6" y="296.5" width="212.6" height="69.4" fill="#fff" stroke="#2a2a2a" stroke-width="1"/>
<circle cx="973.6" cy="306.5" r="3.4" fill="none" stroke="#f20000" stroke-width="2"/>
<circle cx="973.6" cy="322.4" r="3.6" fill="#000"/>
<path d="M969.6 339.1h8M973.6 335.1v8" stroke="#0000f5" stroke-width="2.3"/>
<circle cx="973.6" cy="355.8" r="3.5" fill="none" stroke="#0b7f12" stroke-width="2.3"/>
<text x="997.5" y="310.6" font-size="12.5" textLength="120.5" lengthAdjust="spacingAndGlyphs">Static features of DJI 3</text>
<text x="997.5" y="326.6" font-size="12.5" textLength="138.7" lengthAdjust="spacingAndGlyphs">Dynamic features of DJI 2</text>
<text x="997.5" y="343.2" font-size="12.5" textLength="120.5" lengthAdjust="spacingAndGlyphs">Static features of DJI 2</text>
<text x="997.5" y="360" font-size="12.5" textLength="145.5" lengthAdjust="spacingAndGlyphs">Generated features of DJI 2</text>
<path d="M815.1 220C817 210.6 820.6 199.2 823.3 184.1C826 169 828.3 145.1 831.5 129.7C834.7 114.3 838.9 101.5 842.6 91.6C846.3 81.7 849 76 853.6 70.3C858.2 64.6 863.7 60.8 870 57.4C876.3 54 883.8 51.9 891.3 50.2C898.8 48.5 905.7 47.1 915 47C924.3 46.9 935 46.9 947.2 49.4C959.4 51.9 974.4 56.2 988 61.7C1001.6 67.2 1016.6 75.3 1028.8 82.1C1041 88.9 1052.3 97.6 1061.4 102.5C1070.5 107.4 1075.4 109.7 1083.2 111.4C1091 113.1 1100.8 110.5 1108 112.6C1115.2 114.7 1122 118.6 1126.7 124.2C1131.4 129.8 1134.6 139.7 1136.2 146C1137.8 152.3 1137.3 154.2 1136.2 162.3C1135.1 170.5 1133 185.3 1129.4 194.9C1125.8 204.5 1119.8 212.5 1114.5 220C1109.2 227.5 1107 231.7 1097.3 240C1087.6 248.3 1069.8 260.4 1056.6 269.7C1043.3 279 1030.8 288.6 1017.8 296C1004.8 303.4 991.9 310.1 978.9 314.4C965.9 318.7 948.8 320.6 940 321.6C931.2 322.6 934.8 321.8 926.4 320.6C918 319.4 900.8 317 889.4 314.4C878 311.8 868.3 309.2 858.3 304.7C848.3 300.2 836 293.3 829.2 287.2C822.4 281.1 820.4 275.6 817.5 267.8C814.6 260 812.1 248.5 811.7 240.5C811.3 232.5 813.2 229.4 815.1 220Z" fill="none" stroke="#e5222a" stroke-width="1"/>
<path d="M847.3 115C846.7 109.2 848.5 104.5 849.5 100C850.5 95.5 851.8 92.3 853.3 88C854.8 83.7 856 78.1 858.5 74.1C861 70.1 864.7 66.3 868.6 64C872.5 61.7 875.6 60.5 882.1 60.3C888.6 60.1 898 60.5 907.6 63C917.2 65.5 931 72 940 75.5C949 79 954.8 80.7 961.4 84.3C968 87.9 975.6 92.3 979.9 97.1C984.2 101.8 985.6 107.8 987 112.8C988.4 117.8 989.2 122.2 988.5 127C987.8 131.8 986.1 136.6 982.8 141.3C979.5 146.1 973.2 152.2 968.5 155.5C963.8 158.8 959 159.8 954.3 161.2C949.5 162.6 944.6 163.3 940 164C935.4 164.7 933 165.6 926.7 165.1C920.4 164.6 910.8 163.3 902.2 161C893.6 158.7 883.2 155.8 875 151.5C866.8 147.2 857.8 141.2 853.2 135.1C848.6 129 847.9 120.8 847.3 115Z" fill="none" stroke="#222" stroke-width="1.1"/>
<path d="M744.2 145.6C745.3 143.8 747 142.9 750 142.3C753 141.7 758.8 141.8 762 142.2C765.2 142.6 766.9 143.5 769 144.6C771.1 145.7 774.2 146.9 774.4 149C774.6 151.1 772.6 154.1 770 157C767.4 159.9 761.9 165.5 758.5 166.3C755.1 167.1 752 164.2 749.5 162C747 159.8 744.5 155.7 743.6 153C742.7 150.3 743.1 147.4 744.2 145.6Z" fill="none" stroke="#111" stroke-width="1.2"/>
<path d="M715.9 366v-4.5M715.9 23.1v4.5M764.9 366v-4.5M764.9 23.1v4.5M813.9 366v-4.5M813.9 23.1v4.5M862.9 366v-4.5M862.9 23.1v4.5M911.9 366v-4.5M911.9 23.1v4.5M960.9 366v-4.5M960.9 23.1v4.5M1009.9 366v-4.5M1009.9 23.1v4.5M1058.9 366v-4.5M1058.9 23.1v4.5M1107.9 366v-4.5M1107.9 23.1v4.5M1156.9 366v-4.5M1156.9 23.1v4.5M715.8 366.1h4.5M1157.8 366.1h-4.5M715.8 317.1h4.5M1157.8 317.1h-4.5M715.8 268.1h4.5M1157.8 268.1h-4.5M715.8 219.1h4.5M1157.8 219.1h-4.5M715.8 170.1h4.5M1157.8 170.1h-4.5M715.8 121.1h4.5M1157.8 121.1h-4.5M715.8 72.1h4.5M1157.8 72.1h-4.5M715.8 23.1h4.5M1157.8 23.1h-4.5" stroke="#666" stroke-width="1" fill="none"/>
<rect x="715.8" y="23.1" width="442" height="342.9" fill="none" stroke="#6e6e6e" stroke-width="1.4"/>
<text x="714.4" y="380.6" font-size="12.2" text-anchor="middle" class="sa" textLength="25" lengthAdjust="spacingAndGlyphs" fill="#1a1a1a">0.04</text>
<text x="764.9" y="380.6" font-size="12.2" text-anchor="middle" class="sa" textLength="25" lengthAdjust="spacingAndGlyphs" fill="#1a1a1a">0.05</text>
<text x="813.9" y="380.6" font-size="12.2" text-anchor="middle" class="sa" textLength="25" lengthAdjust="spacingAndGlyphs" fill="#1a1a1a">0.06</text>
<text x="862.9" y="380.6" font-size="12.2" text-anchor="middle" class="sa" textLength="25" lengthAdjust="spacingAndGlyphs" fill="#1a1a1a">0.07</text>
<text x="911.9" y="380.6" font-size="12.2" text-anchor="middle" class="sa" textLength="25" lengthAdjust="spacingAndGlyphs" fill="#1a1a1a">0.08</text>
<text x="960.9" y="380.6" font-size="12.2" text-anchor="middle" class="sa" textLength="25" lengthAdjust="spacingAndGlyphs" fill="#1a1a1a">0.09</text>
<text x="1009.9" y="380.6" font-size="12.2" text-anchor="middle" class="sa" textLength="17.8" lengthAdjust="spacingAndGlyphs" fill="#1a1a1a">0.1</text>
<text x="1058.9" y="380.6" font-size="12.2" text-anchor="middle" class="sa" textLength="25" lengthAdjust="spacingAndGlyphs" fill="#1a1a1a">0.11</text>
<text x="1107.9" y="380.6" font-size="12.2" text-anchor="middle" class="sa" textLength="25" lengthAdjust="spacingAndGlyphs" fill="#1a1a1a">0.12</text>
<text x="1156.9" y="380.6" font-size="12.2" text-anchor="middle" class="sa" textLength="25" lengthAdjust="spacingAndGlyphs" fill="#1a1a1a">0.13</text>
<text x="711" y="370.2" font-size="12.2" text-anchor="end" class="sa" textLength="17.8" lengthAdjust="spacingAndGlyphs" fill="#1a1a1a">0.5</text>
<text x="711" y="321.2" font-size="12.2" text-anchor="end" class="sa" textLength="17.8" lengthAdjust="spacingAndGlyphs" fill="#1a1a1a">0.6</text>
<text x="711" y="272.2" font-size="12.2" text-anchor="end" class="sa" textLength="17.8" lengthAdjust="spacingAndGlyphs" fill="#1a1a1a">0.7</text>
<text x="711" y="223.2" font-size="12.2" text-anchor="end" class="sa" textLength="17.8" lengthAdjust="spacingAndGlyphs" fill="#1a1a1a">0.8</text>
<text x="711" y="174.2" font-size="12.2" text-anchor="end" class="sa" textLength="17.8" lengthAdjust="spacingAndGlyphs" fill="#1a1a1a">0.9</text>
<text x="711" y="125.2" font-size="12.2" text-anchor="end" class="sa" textLength="7.1" lengthAdjust="spacingAndGlyphs" fill="#1a1a1a">1</text>
<text x="711" y="76.2" font-size="12.2" text-anchor="end" class="sa" textLength="17.8" lengthAdjust="spacingAndGlyphs" fill="#1a1a1a">1.1</text>
<text x="711" y="27.2" font-size="12.2" text-anchor="end" class="sa" textLength="17.8" lengthAdjust="spacingAndGlyphs" fill="#1a1a1a">1.2</text>
<rect x="717" y="23.6" width="174.6" height="27" fill="#fff" stroke="#000" stroke-width="2.4"/>
<text x="725.4" y="42.1" font-size="16.5" textLength="157.7" lengthAdjust="spacingAndGlyphs">Before data expansion</text>
<line x1="792" y1="51.6" x2="848" y2="79.8" stroke="#333" stroke-width="2.6"/>
<polygon points="855.3,83.5 842.9,82.5 847.2,74.1" fill="#333"/>
<rect x="987.4" y="31.4" width="162.2" height="27.4" fill="#fff" stroke="#000" stroke-width="2.4"/>
<text x="995.6" y="50" font-size="16.5" textLength="144.7" lengthAdjust="spacingAndGlyphs">After data expansion</text>
<line x1="1082.6" y1="59.8" x2="1065.5" y2="92" stroke="#333" stroke-width="2.6"/>
<polygon points="1061.2,100.2 1062.4,87.8 1070.8,92.2" fill="#333"/>
<line x1="759.2" y1="241" x2="759.2" y2="175" stroke="#15151f" stroke-width="2.4"/>
<polygon points="759.2,168 764.5,177 753.9,177" fill="#15151f"/>
<rect x="719.4" y="240.6" width="89.2" height="21.8" fill="#fff" stroke="#000" stroke-width="2.4"/>
<text x="724" y="255.8" font-size="16.5" textLength="78.9" lengthAdjust="spacingAndGlyphs">Mixed data</text>
<text x="822" y="424.6" font-size="24.5" textLength="230" lengthAdjust="spacingAndGlyphs">Feature augmentation</text>
</g>
<g id="pca">
<text x="43" y="465.2" font-size="11.6" textLength="238.6" lengthAdjust="spacingAndGlyphs">Combined PCA-DWT characteristic distribution</text>
<path d="M57.2 654.4L113.7 614.2L265.4 630.6M57.2 638L113.7 597.8L265.4 614.2M57.2 621.6L113.7 581.4L265.4 597.8M57.2 605.2L113.7 565L265.4 581.4M57.2 588.8L113.7 548.6L265.4 565M57.2 572.4L113.7 532.2L265.4 548.6M57.2 556L113.7 515.8L265.4 532.2M57.2 539.6L113.7 499.4L265.4 515.8M57.2 523.2L113.7 483L265.4 499.4M57.2 506.8L113.7 466.6L265.4 483M60.6 662.6V511.6M60.6 662.6L212.3 679M85.4 644.9V493.9M85.4 644.9L237.2 661.3M110.3 627.2V476.2M110.3 627.2L262 643.6M136.5 627.3V476.3M136.5 627.3L80 667.5M179.7 631.9V480.9M179.7 631.9L123.2 672.1M222.9 636.6V485.6M222.9 636.6L166.4 676.8M113.7 624.8V473.8M265.4 641.2V490.2M57.2 514L113.7 473.8L265.4 490.2" stroke="#f4f4f4" stroke-width=".9" fill="none"/>
<g fill="none" stroke="#f30606" stroke-width="1.6"><circle cx="151.9" cy="637.2" r="2.5"/><circle cx="176.8" cy="631.1" r="2.5"/><circle cx="188.1" cy="529.6" r="2.5"/><circle cx="180" cy="546.8" r="2.5"/><circle cx="165.1" cy="618.5" r="2.5"/><circle cx="189.3" cy="594.5" r="2.5"/><circle cx="151.3" cy="593.7" r="2.5"/><circle cx="196" cy="555.1" r="2.5"/><circle cx="176.2" cy="572.7" r="2.5"/><circle cx="177.1" cy="584" r="2.5"/><circle cx="161.4" cy="594.6" r="2.5"/><circle cx="184.1" cy="600.8" r="2.5"/><circle cx="181.5" cy="600.6" r="2.5"/><circle cx="186.7" cy="582.7" r="2.5"/><circle cx="191.6" cy="575.4" r="2.5"/><circle cx="172" cy="578.2" r="2.5"/><circle cx="180.6" cy="577.1" r="2.5"/><circle cx="149.9" cy="613" r="2.5"/><circle cx="166.1" cy="608.9" r="2.5"/><circle cx="179.3" cy="588.7" r="2.5"/><circle cx="199.1" cy="575" r="2.5"/><circle cx="155.1" cy="621.4" r="2.5"/><circle cx="166.3" cy="607.8" r="2.5"/><circle cx="162.9" cy="622" r="2.5"/><circle cx="202.6" cy="589.3" r="2.5"/><circle cx="194.4" cy="570.8" r="2.5"/><circle cx="174.6" cy="598.1" r="2.5"/><circle cx="184.8" cy="610.3" r="2.5"/><circle cx="196.2" cy="593.6" r="2.5"/><circle cx="166.6" cy="620.3" r="2.5"/><circle cx="162.2" cy="597.5" r="2.5"/><circle cx="168.1" cy="605.6" r="2.5"/><circle cx="167.9" cy="595.2" r="2.5"/><circle cx="146.8" cy="626" r="2.5"/><circle cx="159.6" cy="585.9" r="2.5"/><circle cx="173.4" cy="582.9" r="2.5"/><circle cx="183.7" cy="625.9" r="2.5"/><circle cx="186" cy="562.7" r="2.5"/><circle cx="209.8" cy="545.5" r="2.5"/><circle cx="183.4" cy="560.4" r="2.5"/><circle cx="190" cy="583.5" r="2.5"/><circle cx="169.4" cy="607.9" r="2.5"/><circle cx="181.3" cy="594.4" r="2.5"/><circle cx="177.2" cy="570.1" r="2.5"/><circle cx="188.1" cy="591.4" r="2.5"/><circle cx="179" cy="555.5" r="2.5"/><circle cx="183.9" cy="590.6" r="2.5"/><circle cx="154.6" cy="576.4" r="2.5"/><circle cx="200.2" cy="576.4" r="2.5"/><circle cx="178.3" cy="546.7" r="2.5"/><circle cx="187" cy="567.1" r="2.5"/><circle cx="200.3" cy="585.7" r="2.5"/><circle cx="184" cy="569.2" r="2.5"/><circle cx="177.3" cy="566.1" r="2.5"/><circle cx="194.2" cy="614.7" r="2.5"/><circle cx="177.5" cy="583.4" r="2.5"/><circle cx="144.2" cy="612.4" r="2.5"/><circle cx="187.7" cy="583.6" r="2.5"/><circle cx="164.7" cy="618.6" r="2.5"/><circle cx="153.2" cy="567.8" r="2.5"/><circle cx="185.5" cy="594.4" r="2.5"/><circle cx="177.1" cy="618.4" r="2.5"/><circle cx="181" cy="595.6" r="2.5"/><circle cx="207.2" cy="582.8" r="2.5"/><circle cx="160.9" cy="598.6" r="2.5"/><circle cx="182.1" cy="559.8" r="2.5"/><circle cx="161.6" cy="620.4" r="2.5"/><circle cx="210.8" cy="540.9" r="2.5"/><circle cx="181.2" cy="564.3" r="2.5"/><circle cx="198.4" cy="582.9" r="2.5"/><circle cx="184.9" cy="603.2" r="2.5"/><circle cx="193.2" cy="541.9" r="2.5"/><circle cx="164.1" cy="577.2" r="2.5"/><circle cx="168.3" cy="582.4" r="2.5"/><circle cx="189.4" cy="574.7" r="2.5"/><circle cx="185.4" cy="621.2" r="2.5"/><circle cx="195.3" cy="591.3" r="2.5"/><circle cx="205.4" cy="573.5" r="2.5"/><circle cx="164.9" cy="587.3" r="2.5"/><circle cx="178.8" cy="595" r="2.5"/><circle cx="183.6" cy="583.4" r="2.5"/><circle cx="155.5" cy="579.8" r="2.5"/><circle cx="163" cy="620" r="2.5"/><circle cx="199.9" cy="594.2" r="2.5"/><circle cx="189.2" cy="558.6" r="2.5"/><circle cx="187" cy="598.5" r="2.5"/><circle cx="154.2" cy="563.5" r="2.5"/><circle cx="163.3" cy="593.9" r="2.5"/><circle cx="182.3" cy="612.2" r="2.5"/><circle cx="197" cy="564.7" r="2.5"/><circle cx="173.3" cy="575.4" r="2.5"/><circle cx="169" cy="585.5" r="2.5"/><circle cx="172.4" cy="596.2" r="2.5"/><circle cx="177.9" cy="576.1" r="2.5"/><circle cx="186.5" cy="565" r="2.5"/><circle cx="172.4" cy="603.9" r="2.5"/><circle cx="190.3" cy="553.9" r="2.5"/><circle cx="173.7" cy="610.8" r="2.5"/><circle cx="190.1" cy="577.4" r="2.5"/><circle cx="200.5" cy="589.9" r="2.5"/><circle cx="167.7" cy="580.2" r="2.5"/><circle cx="204.3" cy="578.6" r="2.5"/><circle cx="167.6" cy="563.9" r="2.5"/><circle cx="205.4" cy="551.2" r="2.5"/><circle cx="166.7" cy="603.4" r="2.5"/><circle cx="166.7" cy="634.4" r="2.5"/><circle cx="169.5" cy="613.7" r="2.5"/><circle cx="197.3" cy="554.4" r="2.5"/><circle cx="203.5" cy="542.5" r="2.5"/><circle cx="199.9" cy="586.5" r="2.5"/><circle cx="187.1" cy="614.2" r="2.5"/><circle cx="172.5" cy="592.9" r="2.5"/><circle cx="224.5" cy="578.5" r="2.5"/><circle cx="123.5" cy="629.5" r="2.5"/><circle cx="123" cy="615.4" r="2.5"/><circle cx="130.7" cy="593.4" r="2.5"/><circle cx="153.8" cy="595.6" r="2.5"/></g>
<g fill="#0404f4"><circle cx="121.2" cy="589.9" r="2.65"/><circle cx="153.5" cy="592.1" r="2.65"/><circle cx="138.5" cy="579.5" r="2.65"/><circle cx="118.9" cy="581" r="2.65"/><circle cx="151" cy="557.4" r="2.65"/><circle cx="161.6" cy="578.1" r="2.65"/><circle cx="150.8" cy="592.9" r="2.65"/><circle cx="155.2" cy="605.8" r="2.65"/><circle cx="143.1" cy="603.8" r="2.65"/><circle cx="159.3" cy="597.7" r="2.65"/><circle cx="145.3" cy="593.4" r="2.65"/><circle cx="137.9" cy="617.6" r="2.65"/><circle cx="116.7" cy="564.2" r="2.65"/><circle cx="146.9" cy="601.2" r="2.65"/><circle cx="145.8" cy="585.8" r="2.65"/><circle cx="152.1" cy="530.7" r="2.65"/><circle cx="113.4" cy="601.7" r="2.65"/><circle cx="179.4" cy="579" r="2.65"/><circle cx="165.3" cy="586.9" r="2.65"/><circle cx="128.5" cy="614.6" r="2.65"/><circle cx="144.5" cy="604.7" r="2.65"/><circle cx="169.8" cy="542" r="2.65"/><circle cx="122" cy="622.2" r="2.65"/><circle cx="124.6" cy="619.8" r="2.65"/><circle cx="135.4" cy="562.5" r="2.65"/><circle cx="144.8" cy="566.6" r="2.65"/><circle cx="151.3" cy="575.4" r="2.65"/><circle cx="172.4" cy="552.2" r="2.65"/><circle cx="141.5" cy="630.1" r="2.65"/><circle cx="119.1" cy="568.5" r="2.65"/><circle cx="147.9" cy="591.3" r="2.65"/><circle cx="141.5" cy="609.3" r="2.65"/><circle cx="173.8" cy="539.3" r="2.65"/><circle cx="141.6" cy="577.6" r="2.65"/><circle cx="128.2" cy="575.2" r="2.65"/><circle cx="128.6" cy="584" r="2.65"/><circle cx="142.4" cy="561.9" r="2.65"/><circle cx="127.2" cy="576.2" r="2.65"/><circle cx="163.6" cy="555" r="2.65"/><circle cx="152.7" cy="572.8" r="2.65"/><circle cx="118.3" cy="601.5" r="2.65"/><circle cx="118.3" cy="580.4" r="2.65"/><circle cx="145.4" cy="595.5" r="2.65"/><circle cx="142.3" cy="578.7" r="2.65"/><circle cx="141.1" cy="580.7" r="2.65"/><circle cx="175.6" cy="576.4" r="2.65"/><circle cx="142.4" cy="543.3" r="2.65"/><circle cx="134.2" cy="555.8" r="2.65"/><circle cx="143.7" cy="543" r="2.65"/><circle cx="136.8" cy="588.5" r="2.65"/><circle cx="148.4" cy="572.3" r="2.65"/><circle cx="140.6" cy="575.8" r="2.65"/><circle cx="130.3" cy="617.5" r="2.65"/><circle cx="145.6" cy="573.5" r="2.65"/><circle cx="146.5" cy="555" r="2.65"/><circle cx="135.8" cy="578.9" r="2.65"/><circle cx="146.6" cy="563.7" r="2.65"/><circle cx="127.8" cy="562.9" r="2.65"/><circle cx="140" cy="573.4" r="2.65"/><circle cx="143.2" cy="601.9" r="2.65"/><circle cx="130.5" cy="589.3" r="2.65"/><circle cx="166.4" cy="608.4" r="2.65"/><circle cx="142.3" cy="614.7" r="2.65"/><circle cx="136.4" cy="589.7" r="2.65"/><circle cx="181.5" cy="561.1" r="2.65"/><circle cx="156.3" cy="553" r="2.65"/><circle cx="124.7" cy="572.7" r="2.65"/><circle cx="152.1" cy="530.8" r="2.65"/><circle cx="116.5" cy="575.6" r="2.65"/><circle cx="161.8" cy="568.7" r="2.65"/><circle cx="118.8" cy="575.5" r="2.65"/><circle cx="156" cy="588.3" r="2.65"/><circle cx="151.4" cy="583.6" r="2.65"/><circle cx="149.7" cy="616" r="2.65"/><circle cx="131.7" cy="582.8" r="2.65"/><circle cx="116.3" cy="611.3" r="2.65"/><circle cx="135.5" cy="609.9" r="2.65"/><circle cx="144.7" cy="570.6" r="2.65"/><circle cx="151.6" cy="575.9" r="2.65"/><circle cx="154.9" cy="590.2" r="2.65"/><circle cx="160.1" cy="582.8" r="2.65"/><circle cx="124.4" cy="601.6" r="2.65"/><circle cx="166.8" cy="570.8" r="2.65"/><circle cx="146.6" cy="602.6" r="2.65"/><circle cx="162.4" cy="569.1" r="2.65"/><circle cx="117.9" cy="602.3" r="2.65"/><circle cx="153.9" cy="595.2" r="2.65"/><circle cx="127.1" cy="603.1" r="2.65"/><circle cx="153.1" cy="589.8" r="2.65"/><circle cx="124.8" cy="572.9" r="2.65"/><circle cx="138.5" cy="611.6" r="2.65"/><circle cx="138.2" cy="547.2" r="2.65"/><circle cx="135.8" cy="574.9" r="2.65"/><circle cx="168" cy="573" r="2.65"/><circle cx="125.8" cy="594.6" r="2.65"/><circle cx="149.4" cy="531.1" r="2.65"/><circle cx="127" cy="580.6" r="2.65"/><circle cx="135.7" cy="540.3" r="2.65"/><circle cx="154.5" cy="601.5" r="2.65"/><circle cx="128.3" cy="594.3" r="2.65"/><circle cx="199.3" cy="497.1" r="2.65"/><circle cx="143" cy="525" r="2.65"/><circle cx="183" cy="622" r="2.65"/><circle cx="178" cy="573.6" r="2.65"/><circle cx="162.6" cy="634.1" r="2.65"/><circle cx="165.9" cy="601.1" r="2.65"/></g>
<g fill="none" stroke="#f30606" stroke-width="1.6"><circle cx="193.7" cy="574.2" r="2.5"/><circle cx="187.6" cy="587.6" r="2.5"/><circle cx="174" cy="587.4" r="2.5"/><circle cx="155.3" cy="609.9" r="2.5"/><circle cx="158.7" cy="595" r="2.5"/><circle cx="188.6" cy="565.6" r="2.5"/><circle cx="139.6" cy="621.4" r="2.5"/><circle cx="150.2" cy="582.3" r="2.5"/><circle cx="149.5" cy="599.4" r="2.5"/><circle cx="168" cy="561.8" r="2.5"/><circle cx="163.4" cy="627.7" r="2.5"/><circle cx="193.3" cy="589.6" r="2.5"/><circle cx="183.7" cy="615.7" r="2.5"/><circle cx="152.7" cy="586.7" r="2.5"/><circle cx="166" cy="596.8" r="2.5"/><circle cx="139.4" cy="597.6" r="2.5"/><circle cx="156.1" cy="615.5" r="2.5"/><circle cx="176.8" cy="606.1" r="2.5"/><circle cx="206.9" cy="582.4" r="2.5"/><circle cx="180.6" cy="601.4" r="2.5"/><circle cx="198.2" cy="544.9" r="2.5"/><circle cx="176.4" cy="583" r="2.5"/><circle cx="174.2" cy="580.4" r="2.5"/><circle cx="163.1" cy="597.6" r="2.5"/><circle cx="160.5" cy="566.1" r="2.5"/><circle cx="179.5" cy="576.1" r="2.5"/><circle cx="160.4" cy="600" r="2.5"/><circle cx="185.9" cy="554.3" r="2.5"/><circle cx="170.7" cy="569.8" r="2.5"/><circle cx="179.6" cy="609.4" r="2.5"/><circle cx="160" cy="629.5" r="2.5"/><circle cx="191.5" cy="582" r="2.5"/><circle cx="157.1" cy="585.4" r="2.5"/><circle cx="158.5" cy="619.8" r="2.5"/><circle cx="167" cy="598.7" r="2.5"/><circle cx="186" cy="587.6" r="2.5"/><circle cx="187.4" cy="578.1" r="2.5"/><circle cx="154.6" cy="619.7" r="2.5"/><circle cx="186.8" cy="600.9" r="2.5"/><circle cx="176.8" cy="565.9" r="2.5"/><circle cx="177.9" cy="589" r="2.5"/><circle cx="170.9" cy="555.9" r="2.5"/><circle cx="195.7" cy="576.4" r="2.5"/><circle cx="174.1" cy="611.8" r="2.5"/><circle cx="174.4" cy="631" r="2.5"/><circle cx="154.3" cy="641.1" r="2.5"/><circle cx="152.6" cy="615.8" r="2.5"/><circle cx="202.4" cy="545.5" r="2.5"/><circle cx="184.5" cy="566.1" r="2.5"/><circle cx="156.5" cy="610.2" r="2.5"/><circle cx="191.7" cy="553.2" r="2.5"/><circle cx="165.1" cy="596.3" r="2.5"/><circle cx="164.7" cy="620.4" r="2.5"/><circle cx="179.2" cy="570.7" r="2.5"/><circle cx="183.8" cy="559" r="2.5"/><circle cx="175.9" cy="564.9" r="2.5"/><circle cx="169.1" cy="585" r="2.5"/><circle cx="209.5" cy="555.9" r="2.5"/><circle cx="195.3" cy="597.9" r="2.5"/><circle cx="189.1" cy="570.5" r="2.5"/><circle cx="145.9" cy="614.7" r="2.5"/><circle cx="178.2" cy="585.8" r="2.5"/><circle cx="184.4" cy="558.2" r="2.5"/><circle cx="188.5" cy="560.9" r="2.5"/><circle cx="155.5" cy="615.4" r="2.5"/><circle cx="200" cy="574.2" r="2.5"/><circle cx="181.5" cy="567.8" r="2.5"/><circle cx="170" cy="567.4" r="2.5"/><circle cx="202.8" cy="589" r="2.5"/><circle cx="204.1" cy="552.8" r="2.5"/><circle cx="184.8" cy="573.8" r="2.5"/><circle cx="188.3" cy="602.8" r="2.5"/><circle cx="193.8" cy="611.8" r="2.5"/><circle cx="190.2" cy="565.8" r="2.5"/><circle cx="191.3" cy="572.5" r="2.5"/><circle cx="192.8" cy="545.5" r="2.5"/><circle cx="189.6" cy="593" r="2.5"/><circle cx="145.9" cy="583.7" r="2.5"/><circle cx="161" cy="595.3" r="2.5"/><circle cx="166" cy="599.3" r="2.5"/><circle cx="157.8" cy="608.7" r="2.5"/><circle cx="187.1" cy="587.5" r="2.5"/><circle cx="195.6" cy="565" r="2.5"/><circle cx="152.2" cy="566" r="2.5"/><circle cx="188.9" cy="579.2" r="2.5"/><circle cx="184.3" cy="574.6" r="2.5"/><circle cx="176.8" cy="608.6" r="2.5"/><circle cx="182.2" cy="534" r="2.5"/><circle cx="178.2" cy="605.6" r="2.5"/><circle cx="170.2" cy="569.9" r="2.5"/><circle cx="203.4" cy="601.9" r="2.5"/><circle cx="185.7" cy="572.6" r="2.5"/><circle cx="212.8" cy="571.3" r="2.5"/><circle cx="195.1" cy="551.8" r="2.5"/><circle cx="179.7" cy="589" r="2.5"/><circle cx="167.7" cy="612.8" r="2.5"/><circle cx="178.4" cy="537.6" r="2.5"/><circle cx="152.8" cy="612.8" r="2.5"/><circle cx="175.6" cy="579.1" r="2.5"/><circle cx="207.9" cy="580" r="2.5"/><circle cx="170.5" cy="584.1" r="2.5"/><circle cx="185.1" cy="599.5" r="2.5"/><circle cx="172.1" cy="562" r="2.5"/><circle cx="161.4" cy="580" r="2.5"/><circle cx="208.3" cy="587.9" r="2.5"/><circle cx="181.2" cy="596.5" r="2.5"/><circle cx="162.4" cy="634.1" r="2.5"/><circle cx="199.1" cy="603.7" r="2.5"/><circle cx="152.9" cy="620.8" r="2.5"/><circle cx="174.9" cy="590.1" r="2.5"/><circle cx="193.6" cy="578.6" r="2.5"/><circle cx="155.2" cy="641.3" r="2.5"/><circle cx="122.8" cy="647.2" r="2.5"/><circle cx="218" cy="561" r="2.5"/><circle cx="123" cy="629.7" r="2.5"/><circle cx="151.6" cy="584.6" r="2.5"/><circle cx="158.2" cy="556" r="2.5"/></g>
<g fill="#0404f4"><circle cx="163.6" cy="568.9" r="2.65"/><circle cx="165" cy="604.1" r="2.65"/><circle cx="145.1" cy="597.3" r="2.65"/><circle cx="129.7" cy="586" r="2.65"/><circle cx="157.8" cy="561.9" r="2.65"/><circle cx="162.2" cy="595.7" r="2.65"/><circle cx="147.7" cy="585.9" r="2.65"/><circle cx="153.6" cy="597.4" r="2.65"/><circle cx="164.7" cy="554.3" r="2.65"/><circle cx="138" cy="612.8" r="2.65"/><circle cx="175.5" cy="557.4" r="2.65"/><circle cx="133" cy="624.7" r="2.65"/><circle cx="136.4" cy="568.5" r="2.65"/><circle cx="137.1" cy="575.5" r="2.65"/><circle cx="179.8" cy="586.8" r="2.65"/><circle cx="149.9" cy="544.5" r="2.65"/><circle cx="163.6" cy="557.8" r="2.65"/><circle cx="146.8" cy="557.9" r="2.65"/><circle cx="131.3" cy="583" r="2.65"/><circle cx="144" cy="594.7" r="2.65"/><circle cx="167.7" cy="532.1" r="2.65"/><circle cx="139.2" cy="595.1" r="2.65"/><circle cx="163.2" cy="578.1" r="2.65"/><circle cx="152.8" cy="582.5" r="2.65"/><circle cx="132.5" cy="556" r="2.65"/><circle cx="137.1" cy="602.4" r="2.65"/><circle cx="172.2" cy="565.5" r="2.65"/><circle cx="163.8" cy="572" r="2.65"/><circle cx="116.8" cy="571.4" r="2.65"/><circle cx="139.8" cy="581.4" r="2.65"/><circle cx="117.7" cy="577.1" r="2.65"/><circle cx="129.1" cy="617.8" r="2.65"/><circle cx="142.9" cy="625.3" r="2.65"/><circle cx="165.3" cy="575.6" r="2.65"/><circle cx="184.3" cy="566.7" r="2.65"/><circle cx="145.8" cy="611.4" r="2.65"/><circle cx="123.8" cy="606.8" r="2.65"/><circle cx="127.8" cy="598.1" r="2.65"/><circle cx="154.6" cy="567.6" r="2.65"/><circle cx="137.5" cy="618.8" r="2.65"/><circle cx="154.9" cy="582.8" r="2.65"/><circle cx="144.6" cy="589.3" r="2.65"/><circle cx="151.8" cy="576.3" r="2.65"/><circle cx="143.6" cy="537.8" r="2.65"/><circle cx="173.7" cy="554.7" r="2.65"/><circle cx="130.7" cy="632.7" r="2.65"/><circle cx="150.9" cy="557.1" r="2.65"/><circle cx="140.3" cy="562.6" r="2.65"/><circle cx="147.8" cy="580.4" r="2.65"/><circle cx="132.6" cy="632.1" r="2.65"/><circle cx="125.6" cy="558.2" r="2.65"/><circle cx="162.5" cy="572.7" r="2.65"/><circle cx="142.4" cy="584.8" r="2.65"/><circle cx="172.1" cy="603.7" r="2.65"/><circle cx="176.3" cy="575.3" r="2.65"/><circle cx="117.7" cy="593.3" r="2.65"/><circle cx="163.9" cy="613.6" r="2.65"/><circle cx="147.6" cy="565.8" r="2.65"/><circle cx="138.1" cy="578.6" r="2.65"/><circle cx="152.8" cy="536.1" r="2.65"/><circle cx="154.6" cy="560" r="2.65"/><circle cx="149.2" cy="585.6" r="2.65"/><circle cx="154.4" cy="590.8" r="2.65"/><circle cx="144.9" cy="551.5" r="2.65"/><circle cx="139.3" cy="603.3" r="2.65"/><circle cx="161" cy="555.1" r="2.65"/><circle cx="169.7" cy="573.9" r="2.65"/><circle cx="161.1" cy="597.9" r="2.65"/><circle cx="128.9" cy="594.1" r="2.65"/><circle cx="162.4" cy="550.1" r="2.65"/><circle cx="154.9" cy="557.7" r="2.65"/><circle cx="157.5" cy="603.4" r="2.65"/><circle cx="145.4" cy="596.1" r="2.65"/><circle cx="129.9" cy="608.4" r="2.65"/><circle cx="154.2" cy="559" r="2.65"/><circle cx="145.6" cy="549.8" r="2.65"/><circle cx="153.8" cy="613.7" r="2.65"/><circle cx="124.3" cy="584.3" r="2.65"/><circle cx="152.5" cy="566.7" r="2.65"/><circle cx="116" cy="588.6" r="2.65"/><circle cx="144.6" cy="564.2" r="2.65"/><circle cx="134.9" cy="601.4" r="2.65"/><circle cx="146.1" cy="560.2" r="2.65"/><circle cx="161.8" cy="554.1" r="2.65"/><circle cx="120.1" cy="578.5" r="2.65"/><circle cx="174.9" cy="576.3" r="2.65"/><circle cx="114.6" cy="578.6" r="2.65"/><circle cx="154.5" cy="609.9" r="2.65"/><circle cx="124.4" cy="564.2" r="2.65"/><circle cx="133.1" cy="574.2" r="2.65"/><circle cx="152.2" cy="567.8" r="2.65"/><circle cx="122.6" cy="602.3" r="2.65"/><circle cx="131.3" cy="578.7" r="2.65"/><circle cx="125.8" cy="585.5" r="2.65"/><circle cx="114.7" cy="560.5" r="2.65"/><circle cx="148.3" cy="549.5" r="2.65"/><circle cx="166.3" cy="592.6" r="2.65"/><circle cx="112.5" cy="601.1" r="2.65"/><circle cx="144.6" cy="580.8" r="2.65"/><circle cx="140.3" cy="577.3" r="2.65"/><circle cx="131.5" cy="642.6" r="2.65"/><circle cx="167" cy="524.5" r="2.65"/><circle cx="179.1" cy="531.8" r="2.65"/><circle cx="208.8" cy="565.9" r="2.65"/><circle cx="152.7" cy="636.3" r="2.65"/><circle cx="162.6" cy="613.2" r="2.65"/></g>
<g fill="none" stroke="#f30606" stroke-width="1.6"><circle cx="196.6" cy="564.5" r="2.5"/><circle cx="186.9" cy="563" r="2.5"/><circle cx="176.4" cy="604.7" r="2.5"/><circle cx="205.8" cy="562.3" r="2.5"/><circle cx="177.1" cy="582.6" r="2.5"/><circle cx="166.8" cy="614.4" r="2.5"/><circle cx="171.1" cy="584" r="2.5"/><circle cx="183.3" cy="556.8" r="2.5"/><circle cx="203.3" cy="541.8" r="2.5"/><circle cx="159.3" cy="562.1" r="2.5"/><circle cx="205.3" cy="607.5" r="2.5"/><circle cx="174.3" cy="563.4" r="2.5"/><circle cx="209.2" cy="546.4" r="2.5"/><circle cx="191.1" cy="582.8" r="2.5"/><circle cx="174" cy="588.5" r="2.5"/><circle cx="165.6" cy="600.8" r="2.5"/><circle cx="204.9" cy="559.4" r="2.5"/><circle cx="179.8" cy="612.3" r="2.5"/><circle cx="193.3" cy="571.4" r="2.5"/><circle cx="139.8" cy="618.6" r="2.5"/><circle cx="185.3" cy="581.3" r="2.5"/><circle cx="167.9" cy="595.2" r="2.5"/><circle cx="184.6" cy="565.7" r="2.5"/><circle cx="194.1" cy="570.9" r="2.5"/><circle cx="196.4" cy="580.9" r="2.5"/><circle cx="162.8" cy="594.7" r="2.5"/><circle cx="182.4" cy="615.4" r="2.5"/><circle cx="182.2" cy="579" r="2.5"/><circle cx="169.7" cy="600.7" r="2.5"/><circle cx="158.7" cy="608.4" r="2.5"/><circle cx="199.2" cy="567.5" r="2.5"/><circle cx="179.8" cy="600.5" r="2.5"/><circle cx="163.1" cy="573.8" r="2.5"/><circle cx="185.7" cy="548.9" r="2.5"/><circle cx="192.3" cy="553.7" r="2.5"/><circle cx="193.9" cy="606.9" r="2.5"/><circle cx="170.5" cy="613.1" r="2.5"/><circle cx="212.4" cy="545.6" r="2.5"/><circle cx="181.3" cy="568.5" r="2.5"/><circle cx="202.2" cy="595.7" r="2.5"/><circle cx="165.9" cy="576.6" r="2.5"/><circle cx="198.8" cy="581.1" r="2.5"/><circle cx="172.8" cy="584.9" r="2.5"/><circle cx="167.9" cy="598.2" r="2.5"/><circle cx="163.6" cy="586.5" r="2.5"/><circle cx="146.4" cy="600.2" r="2.5"/><circle cx="164.3" cy="611.4" r="2.5"/><circle cx="148.1" cy="610.1" r="2.5"/><circle cx="185.6" cy="581.1" r="2.5"/><circle cx="167.7" cy="599.7" r="2.5"/><circle cx="182.1" cy="570.1" r="2.5"/><circle cx="173.6" cy="632.5" r="2.5"/><circle cx="197.8" cy="577" r="2.5"/><circle cx="168.1" cy="549.8" r="2.5"/><circle cx="180.7" cy="562" r="2.5"/><circle cx="169.6" cy="565.8" r="2.5"/><circle cx="205.1" cy="554.1" r="2.5"/><circle cx="165.4" cy="628.5" r="2.5"/><circle cx="195.9" cy="556.3" r="2.5"/><circle cx="173.4" cy="592.4" r="2.5"/><circle cx="167.9" cy="548.6" r="2.5"/><circle cx="167.3" cy="602" r="2.5"/><circle cx="184" cy="592.8" r="2.5"/><circle cx="166.9" cy="607.3" r="2.5"/><circle cx="172" cy="616.1" r="2.5"/><circle cx="192.5" cy="550.8" r="2.5"/><circle cx="171.6" cy="590.9" r="2.5"/><circle cx="199" cy="614.5" r="2.5"/><circle cx="164.5" cy="588.5" r="2.5"/><circle cx="194.3" cy="595.1" r="2.5"/><circle cx="182.4" cy="614.7" r="2.5"/><circle cx="212.3" cy="588.8" r="2.5"/><circle cx="165.3" cy="611.6" r="2.5"/><circle cx="175.3" cy="588.2" r="2.5"/><circle cx="203.3" cy="578.5" r="2.5"/><circle cx="183.7" cy="609.1" r="2.5"/><circle cx="197" cy="619.5" r="2.5"/><circle cx="166" cy="596.7" r="2.5"/><circle cx="206.2" cy="598.3" r="2.5"/><circle cx="169" cy="585.8" r="2.5"/><circle cx="166.5" cy="599.2" r="2.5"/><circle cx="174.3" cy="603.4" r="2.5"/><circle cx="154.1" cy="625.3" r="2.5"/><circle cx="180.7" cy="580" r="2.5"/><circle cx="194.3" cy="558.1" r="2.5"/><circle cx="193.7" cy="614.9" r="2.5"/><circle cx="154.6" cy="573.4" r="2.5"/><circle cx="155.7" cy="585.5" r="2.5"/><circle cx="182.4" cy="603.5" r="2.5"/><circle cx="197.1" cy="581.3" r="2.5"/><circle cx="152.9" cy="611.1" r="2.5"/><circle cx="154.3" cy="628.5" r="2.5"/><circle cx="187.8" cy="573.6" r="2.5"/><circle cx="183.4" cy="562.4" r="2.5"/><circle cx="170.8" cy="579.7" r="2.5"/><circle cx="192.1" cy="573.7" r="2.5"/><circle cx="190.3" cy="565.2" r="2.5"/><circle cx="203.5" cy="573.9" r="2.5"/><circle cx="196.2" cy="582.5" r="2.5"/><circle cx="211.5" cy="550.1" r="2.5"/><circle cx="185.5" cy="559.5" r="2.5"/><circle cx="156.6" cy="616.7" r="2.5"/><circle cx="189.4" cy="579.8" r="2.5"/><circle cx="198.9" cy="539.6" r="2.5"/><circle cx="168.1" cy="616.4" r="2.5"/><circle cx="171" cy="612" r="2.5"/><circle cx="180.4" cy="600.3" r="2.5"/><circle cx="175.7" cy="601.2" r="2.5"/><circle cx="166.7" cy="597.8" r="2.5"/><circle cx="191.9" cy="577" r="2.5"/><circle cx="187.8" cy="611.8" r="2.5"/><circle cx="216" cy="517.3" r="2.5"/><circle cx="150.8" cy="645.7" r="2.5"/><circle cx="219.5" cy="566" r="2.5"/><circle cx="142.8" cy="630.8" r="2.5"/><circle cx="146.1" cy="613.2" r="2.5"/><circle cx="161.5" cy="543.9" r="2.5"/></g>
<g fill="#0404f4"><circle cx="121.7" cy="579.5" r="2.65"/><circle cx="143.7" cy="574.6" r="2.65"/><circle cx="161.6" cy="585.9" r="2.65"/><circle cx="165.2" cy="549.9" r="2.65"/><circle cx="178.4" cy="569.1" r="2.65"/><circle cx="150.4" cy="562.7" r="2.65"/><circle cx="150.2" cy="566.9" r="2.65"/><circle cx="143.1" cy="599.1" r="2.65"/><circle cx="143.1" cy="598.7" r="2.65"/><circle cx="127" cy="599.6" r="2.65"/><circle cx="140.7" cy="596.2" r="2.65"/><circle cx="134.8" cy="569.8" r="2.65"/><circle cx="155.7" cy="573.1" r="2.65"/><circle cx="112.5" cy="618.7" r="2.65"/><circle cx="167" cy="585.5" r="2.65"/><circle cx="165.2" cy="530.7" r="2.65"/><circle cx="135.8" cy="564.7" r="2.65"/><circle cx="148.7" cy="550.1" r="2.65"/><circle cx="143.4" cy="554.9" r="2.65"/><circle cx="169" cy="561.7" r="2.65"/><circle cx="159.7" cy="565.2" r="2.65"/><circle cx="129.7" cy="586.8" r="2.65"/><circle cx="147.2" cy="583.7" r="2.65"/><circle cx="140" cy="582.5" r="2.65"/><circle cx="142.6" cy="566.6" r="2.65"/><circle cx="143.2" cy="554.1" r="2.65"/><circle cx="152.7" cy="599.8" r="2.65"/><circle cx="140.2" cy="568" r="2.65"/><circle cx="117.8" cy="627.6" r="2.65"/><circle cx="148" cy="573" r="2.65"/><circle cx="164.6" cy="550.7" r="2.65"/><circle cx="135.5" cy="559.1" r="2.65"/><circle cx="165.6" cy="575.4" r="2.65"/><circle cx="113.8" cy="605.7" r="2.65"/><circle cx="135.9" cy="607.4" r="2.65"/><circle cx="153.2" cy="575.4" r="2.65"/><circle cx="160.6" cy="604.3" r="2.65"/><circle cx="134.7" cy="578.5" r="2.65"/><circle cx="151.6" cy="538.2" r="2.65"/><circle cx="141.2" cy="591.6" r="2.65"/><circle cx="138.9" cy="533.9" r="2.65"/><circle cx="146.8" cy="585" r="2.65"/><circle cx="113.8" cy="590.4" r="2.65"/><circle cx="146.7" cy="604.5" r="2.65"/><circle cx="144.4" cy="536.2" r="2.65"/><circle cx="151.9" cy="540.3" r="2.65"/><circle cx="144.8" cy="572.1" r="2.65"/><circle cx="137.8" cy="555.3" r="2.65"/><circle cx="128.8" cy="555.5" r="2.65"/><circle cx="126.7" cy="572.3" r="2.65"/><circle cx="178.3" cy="596.2" r="2.65"/><circle cx="122.5" cy="575.7" r="2.65"/><circle cx="142.6" cy="587.9" r="2.65"/><circle cx="124" cy="592.5" r="2.65"/><circle cx="138.9" cy="574" r="2.65"/><circle cx="130.1" cy="586.1" r="2.65"/><circle cx="156.2" cy="548.8" r="2.65"/><circle cx="179.5" cy="556.6" r="2.65"/><circle cx="161.8" cy="599.2" r="2.65"/><circle cx="150.5" cy="586.3" r="2.65"/><circle cx="128.4" cy="607.4" r="2.65"/><circle cx="128.3" cy="570.4" r="2.65"/><circle cx="147.8" cy="545.3" r="2.65"/><circle cx="162.5" cy="567.9" r="2.65"/><circle cx="129.6" cy="597.7" r="2.65"/><circle cx="149" cy="616.5" r="2.65"/><circle cx="147.8" cy="572.9" r="2.65"/><circle cx="154.7" cy="611.6" r="2.65"/><circle cx="170.4" cy="574" r="2.65"/><circle cx="170.1" cy="547.1" r="2.65"/><circle cx="134.2" cy="587.3" r="2.65"/><circle cx="148.9" cy="566.4" r="2.65"/><circle cx="138.3" cy="618.2" r="2.65"/><circle cx="157.3" cy="556.5" r="2.65"/><circle cx="124.9" cy="576.1" r="2.65"/><circle cx="146.9" cy="592.5" r="2.65"/><circle cx="175.5" cy="581.4" r="2.65"/><circle cx="167.6" cy="572.4" r="2.65"/><circle cx="125.7" cy="573.3" r="2.65"/><circle cx="121.4" cy="608.6" r="2.65"/><circle cx="128.9" cy="570.8" r="2.65"/><circle cx="119.6" cy="602.8" r="2.65"/><circle cx="149.5" cy="571.8" r="2.65"/><circle cx="152.3" cy="590" r="2.65"/><circle cx="156.9" cy="537.6" r="2.65"/><circle cx="137.5" cy="553.8" r="2.65"/><circle cx="161" cy="552.2" r="2.65"/><circle cx="164.9" cy="578.7" r="2.65"/><circle cx="114.9" cy="628.5" r="2.65"/><circle cx="159.9" cy="551.9" r="2.65"/><circle cx="138.1" cy="578.2" r="2.65"/><circle cx="145.9" cy="577" r="2.65"/><circle cx="132" cy="572.2" r="2.65"/><circle cx="131" cy="555.8" r="2.65"/><circle cx="124.6" cy="576.3" r="2.65"/><circle cx="148.6" cy="561" r="2.65"/><circle cx="132.2" cy="578.2" r="2.65"/><circle cx="140.5" cy="619.3" r="2.65"/><circle cx="140.2" cy="600.8" r="2.65"/><circle cx="177.5" cy="590.8" r="2.65"/><circle cx="100" cy="579.5" r="2.65"/><circle cx="179" cy="531" r="2.65"/><circle cx="195.6" cy="548.3" r="2.65"/><circle cx="183.5" cy="585.7" r="2.65"/><circle cx="170.3" cy="545" r="2.65"/><circle cx="176.9" cy="541.7" r="2.65"/></g>
<g fill="none" stroke="#f30606" stroke-width="1.6"><circle cx="170.6" cy="586.6" r="2.5"/><circle cx="218.9" cy="555" r="2.5"/><circle cx="184.5" cy="568.3" r="2.5"/><circle cx="175.9" cy="604.6" r="2.5"/><circle cx="174.8" cy="572.2" r="2.5"/><circle cx="177.9" cy="632.1" r="2.5"/><circle cx="163.6" cy="571.8" r="2.5"/><circle cx="192.9" cy="579.5" r="2.5"/><circle cx="173" cy="612.3" r="2.5"/><circle cx="180.9" cy="596.7" r="2.5"/><circle cx="167.4" cy="571.1" r="2.5"/><circle cx="167.8" cy="616.5" r="2.5"/><circle cx="193.8" cy="593.4" r="2.5"/><circle cx="151.3" cy="595.2" r="2.5"/><circle cx="198" cy="544.3" r="2.5"/><circle cx="205.4" cy="580" r="2.5"/><circle cx="201.8" cy="566.1" r="2.5"/><circle cx="182.1" cy="598.2" r="2.5"/><circle cx="174.4" cy="590.4" r="2.5"/><circle cx="185.5" cy="565.1" r="2.5"/><circle cx="166.6" cy="605.7" r="2.5"/><circle cx="189.3" cy="587.6" r="2.5"/><circle cx="190.7" cy="548.1" r="2.5"/><circle cx="169.7" cy="605.8" r="2.5"/><circle cx="181.1" cy="535.8" r="2.5"/><circle cx="193.4" cy="592.9" r="2.5"/><circle cx="178.1" cy="594.8" r="2.5"/><circle cx="164" cy="598.7" r="2.5"/><circle cx="195.4" cy="587.3" r="2.5"/><circle cx="213.4" cy="569.1" r="2.5"/><circle cx="186.7" cy="580.3" r="2.5"/><circle cx="182.2" cy="567.8" r="2.5"/><circle cx="158.8" cy="566.8" r="2.5"/><circle cx="215.2" cy="573.7" r="2.5"/><circle cx="175.9" cy="602.5" r="2.5"/><circle cx="188.9" cy="601.5" r="2.5"/><circle cx="194.7" cy="560.6" r="2.5"/><circle cx="169.6" cy="573.5" r="2.5"/><circle cx="181.3" cy="587.7" r="2.5"/><circle cx="183.3" cy="588.9" r="2.5"/><circle cx="166.1" cy="599" r="2.5"/><circle cx="184.8" cy="555.1" r="2.5"/><circle cx="178.5" cy="588.3" r="2.5"/><circle cx="186.2" cy="586.8" r="2.5"/><circle cx="195.6" cy="561" r="2.5"/><circle cx="185.3" cy="569" r="2.5"/><circle cx="192.4" cy="585.1" r="2.5"/><circle cx="208" cy="547" r="2.5"/><circle cx="173.9" cy="575.8" r="2.5"/><circle cx="197.9" cy="571.9" r="2.5"/><circle cx="185.7" cy="592.4" r="2.5"/><circle cx="156.3" cy="621" r="2.5"/><circle cx="180.2" cy="605" r="2.5"/><circle cx="205.6" cy="556.9" r="2.5"/><circle cx="168.3" cy="595.7" r="2.5"/><circle cx="192.2" cy="578.1" r="2.5"/><circle cx="216.5" cy="566.4" r="2.5"/><circle cx="158.8" cy="592.6" r="2.5"/><circle cx="167.2" cy="627.9" r="2.5"/><circle cx="194.4" cy="589.2" r="2.5"/><circle cx="175.8" cy="617.2" r="2.5"/><circle cx="177.5" cy="569.6" r="2.5"/><circle cx="207" cy="571.8" r="2.5"/><circle cx="185.7" cy="611.5" r="2.5"/><circle cx="156.7" cy="632.5" r="2.5"/><circle cx="174.8" cy="586.8" r="2.5"/><circle cx="195.5" cy="572.6" r="2.5"/><circle cx="190.4" cy="596.3" r="2.5"/><circle cx="165.8" cy="588.7" r="2.5"/><circle cx="154.4" cy="604.8" r="2.5"/><circle cx="172.2" cy="555.8" r="2.5"/><circle cx="220.9" cy="566.2" r="2.5"/><circle cx="188.6" cy="606.4" r="2.5"/><circle cx="175.7" cy="610.3" r="2.5"/><circle cx="155.9" cy="602.7" r="2.5"/><circle cx="188.6" cy="586.1" r="2.5"/><circle cx="163.4" cy="609" r="2.5"/><circle cx="187.4" cy="565.1" r="2.5"/><circle cx="196.1" cy="595.4" r="2.5"/><circle cx="191.6" cy="555.7" r="2.5"/><circle cx="171.9" cy="563.3" r="2.5"/><circle cx="195.3" cy="559.3" r="2.5"/><circle cx="199.4" cy="549.9" r="2.5"/><circle cx="212.7" cy="567.6" r="2.5"/><circle cx="190.2" cy="560.1" r="2.5"/><circle cx="180.7" cy="557.3" r="2.5"/><circle cx="192.9" cy="618.9" r="2.5"/><circle cx="149.7" cy="611.5" r="2.5"/><circle cx="170.5" cy="567.9" r="2.5"/><circle cx="183.7" cy="567.1" r="2.5"/><circle cx="155.6" cy="597.9" r="2.5"/><circle cx="203.4" cy="592.3" r="2.5"/><circle cx="190" cy="567.2" r="2.5"/><circle cx="210.8" cy="572.2" r="2.5"/><circle cx="171.6" cy="602" r="2.5"/><circle cx="215.5" cy="546.8" r="2.5"/><circle cx="211.1" cy="603.3" r="2.5"/><circle cx="170.8" cy="574.9" r="2.5"/><circle cx="187.8" cy="577.7" r="2.5"/><circle cx="175.4" cy="582.7" r="2.5"/><circle cx="174.5" cy="584.9" r="2.5"/><circle cx="221.8" cy="539.6" r="2.5"/><circle cx="188.5" cy="586.4" r="2.5"/><circle cx="187.7" cy="584" r="2.5"/><circle cx="168.1" cy="580.4" r="2.5"/><circle cx="192.4" cy="562.4" r="2.5"/><circle cx="169.3" cy="604.8" r="2.5"/><circle cx="164.8" cy="600.7" r="2.5"/><circle cx="166.9" cy="561.7" r="2.5"/><circle cx="173.4" cy="632.3" r="2.5"/><circle cx="210.7" cy="557.5" r="2.5"/><circle cx="230" cy="547.1" r="2.5"/><circle cx="185" cy="638.5" r="2.5"/><circle cx="212" cy="597" r="2.5"/><circle cx="149.4" cy="633" r="2.5"/><circle cx="140.6" cy="604.4" r="2.5"/><circle cx="137.3" cy="633" r="2.5"/></g>
<g fill="#0404f4"><circle cx="146.4" cy="606.8" r="2.65"/><circle cx="136.5" cy="554.2" r="2.65"/><circle cx="109.9" cy="597.5" r="2.65"/><circle cx="135.7" cy="596.6" r="2.65"/><circle cx="155.7" cy="581.1" r="2.65"/><circle cx="154.6" cy="592" r="2.65"/><circle cx="128.8" cy="571.7" r="2.65"/><circle cx="175.8" cy="573.3" r="2.65"/><circle cx="150.7" cy="560.2" r="2.65"/><circle cx="164.4" cy="574.1" r="2.65"/><circle cx="165.8" cy="559.4" r="2.65"/><circle cx="148.9" cy="614.5" r="2.65"/><circle cx="157" cy="582.9" r="2.65"/><circle cx="169.6" cy="576.8" r="2.65"/><circle cx="115.7" cy="585.2" r="2.65"/><circle cx="122.3" cy="609.7" r="2.65"/><circle cx="127.3" cy="565" r="2.65"/><circle cx="110.2" cy="597.4" r="2.65"/><circle cx="122.9" cy="546.2" r="2.65"/><circle cx="106.6" cy="598.7" r="2.65"/><circle cx="133.4" cy="570.8" r="2.65"/><circle cx="142.7" cy="604.7" r="2.65"/><circle cx="148.5" cy="576.1" r="2.65"/><circle cx="153.3" cy="565.8" r="2.65"/><circle cx="133" cy="583.3" r="2.65"/><circle cx="128.2" cy="555" r="2.65"/><circle cx="125.8" cy="544.4" r="2.65"/><circle cx="147.9" cy="538.3" r="2.65"/><circle cx="157.5" cy="563.9" r="2.65"/><circle cx="150.3" cy="567.2" r="2.65"/><circle cx="164.7" cy="571.8" r="2.65"/><circle cx="161.6" cy="555.9" r="2.65"/><circle cx="135.3" cy="574" r="2.65"/><circle cx="128.1" cy="570.5" r="2.65"/><circle cx="152.7" cy="598.9" r="2.65"/><circle cx="145.8" cy="576" r="2.65"/><circle cx="154.3" cy="600.6" r="2.65"/><circle cx="143.8" cy="612.8" r="2.65"/><circle cx="158.7" cy="569.2" r="2.65"/><circle cx="157.5" cy="559.6" r="2.65"/><circle cx="152.8" cy="578.7" r="2.65"/><circle cx="126.6" cy="572" r="2.65"/><circle cx="130" cy="604.3" r="2.65"/><circle cx="148.1" cy="557.1" r="2.65"/><circle cx="135.9" cy="563.6" r="2.65"/><circle cx="155.7" cy="559" r="2.65"/><circle cx="128.7" cy="603.2" r="2.65"/><circle cx="128.5" cy="576.2" r="2.65"/><circle cx="138" cy="604.8" r="2.65"/><circle cx="166.9" cy="574.8" r="2.65"/><circle cx="149.4" cy="603.4" r="2.65"/><circle cx="131.6" cy="595.4" r="2.65"/><circle cx="152.6" cy="613.8" r="2.65"/><circle cx="157.2" cy="578.1" r="2.65"/><circle cx="134.7" cy="562.8" r="2.65"/><circle cx="131.2" cy="568.9" r="2.65"/><circle cx="132.2" cy="595.5" r="2.65"/><circle cx="149.4" cy="583" r="2.65"/><circle cx="123.5" cy="570.6" r="2.65"/><circle cx="159.4" cy="550.4" r="2.65"/><circle cx="154.7" cy="528.1" r="2.65"/><circle cx="142.3" cy="562.8" r="2.65"/><circle cx="139.3" cy="593.8" r="2.65"/><circle cx="152.9" cy="562.1" r="2.65"/><circle cx="127.5" cy="595.2" r="2.65"/><circle cx="157" cy="568" r="2.65"/><circle cx="118" cy="569" r="2.65"/><circle cx="139.6" cy="566.8" r="2.65"/><circle cx="122.7" cy="582.2" r="2.65"/><circle cx="171.3" cy="538.4" r="2.65"/><circle cx="134.5" cy="591" r="2.65"/><circle cx="159.2" cy="590.9" r="2.65"/><circle cx="136" cy="571.6" r="2.65"/><circle cx="130.9" cy="630" r="2.65"/><circle cx="140.3" cy="566.5" r="2.65"/><circle cx="134.6" cy="597.4" r="2.65"/><circle cx="169.9" cy="545.1" r="2.65"/><circle cx="156.5" cy="565.4" r="2.65"/><circle cx="153.5" cy="618.1" r="2.65"/><circle cx="154.2" cy="595.5" r="2.65"/><circle cx="150.9" cy="565.8" r="2.65"/><circle cx="140.1" cy="596.7" r="2.65"/><circle cx="147" cy="589.1" r="2.65"/><circle cx="146.6" cy="591.1" r="2.65"/><circle cx="129.5" cy="594.9" r="2.65"/><circle cx="158.6" cy="583.4" r="2.65"/><circle cx="152.4" cy="614.6" r="2.65"/><circle cx="146.6" cy="537.4" r="2.65"/><circle cx="127.4" cy="601.1" r="2.65"/><circle cx="160" cy="611.5" r="2.65"/><circle cx="153.8" cy="584" r="2.65"/><circle cx="144.4" cy="606.1" r="2.65"/><circle cx="142.1" cy="575.9" r="2.65"/><circle cx="154.1" cy="541.8" r="2.65"/><circle cx="105.8" cy="602" r="2.65"/><circle cx="139.7" cy="576" r="2.65"/><circle cx="133.2" cy="603.1" r="2.65"/><circle cx="115" cy="560.3" r="2.65"/><circle cx="139.6" cy="588.5" r="2.65"/><circle cx="131.2" cy="606.8" r="2.65"/><circle cx="103.5" cy="582" r="2.65"/><circle cx="119" cy="630" r="2.65"/><circle cx="186.8" cy="553.8" r="2.65"/><circle cx="173.6" cy="590.1" r="2.65"/><circle cx="167" cy="562.6" r="2.65"/><circle cx="190.1" cy="562.6" r="2.65"/></g>
<g fill="none" stroke="#f30606" stroke-width="1.6"><circle cx="176.5" cy="617.1" r="2.5"/><circle cx="184.1" cy="571.2" r="2.5"/><circle cx="180.7" cy="600.3" r="2.5"/><circle cx="209.2" cy="567.9" r="2.5"/><circle cx="165.4" cy="628.2" r="2.5"/><circle cx="186" cy="583.5" r="2.5"/><circle cx="156.2" cy="611.7" r="2.5"/><circle cx="188.5" cy="569.5" r="2.5"/><circle cx="174" cy="615.7" r="2.5"/><circle cx="199.5" cy="587.2" r="2.5"/><circle cx="190.9" cy="566.6" r="2.5"/><circle cx="198.9" cy="608" r="2.5"/><circle cx="169.3" cy="596.9" r="2.5"/><circle cx="191.8" cy="588.4" r="2.5"/><circle cx="176.4" cy="602.6" r="2.5"/><circle cx="195.5" cy="590.1" r="2.5"/><circle cx="146.1" cy="613.4" r="2.5"/><circle cx="175.9" cy="610.8" r="2.5"/><circle cx="183.7" cy="562.3" r="2.5"/><circle cx="171.5" cy="594.8" r="2.5"/><circle cx="202" cy="609.3" r="2.5"/><circle cx="179.3" cy="580.5" r="2.5"/><circle cx="183.5" cy="597.2" r="2.5"/><circle cx="180" cy="590.9" r="2.5"/><circle cx="173.6" cy="620.6" r="2.5"/><circle cx="163.3" cy="609.3" r="2.5"/><circle cx="164.3" cy="605.5" r="2.5"/><circle cx="193.5" cy="593.6" r="2.5"/><circle cx="205.2" cy="564.1" r="2.5"/><circle cx="174.3" cy="559.5" r="2.5"/><circle cx="186.5" cy="606" r="2.5"/><circle cx="202.1" cy="584.2" r="2.5"/><circle cx="197.6" cy="579.7" r="2.5"/><circle cx="183.5" cy="612.8" r="2.5"/><circle cx="171.9" cy="597.7" r="2.5"/><circle cx="194.1" cy="556.2" r="2.5"/><circle cx="185.4" cy="565.8" r="2.5"/><circle cx="187.2" cy="551" r="2.5"/><circle cx="191.1" cy="581.6" r="2.5"/><circle cx="161.6" cy="622.7" r="2.5"/><circle cx="207.3" cy="539.5" r="2.5"/><circle cx="189.1" cy="570.9" r="2.5"/><circle cx="175.1" cy="578.5" r="2.5"/><circle cx="197.3" cy="570.8" r="2.5"/><circle cx="197.1" cy="595" r="2.5"/><circle cx="190.5" cy="586.5" r="2.5"/><circle cx="184.2" cy="583.1" r="2.5"/><circle cx="189.4" cy="583" r="2.5"/><circle cx="163.9" cy="599.2" r="2.5"/><circle cx="189.4" cy="596.3" r="2.5"/><circle cx="163.6" cy="605" r="2.5"/><circle cx="175.8" cy="608.6" r="2.5"/><circle cx="191.2" cy="583.1" r="2.5"/><circle cx="160.5" cy="583" r="2.5"/><circle cx="170.9" cy="565.1" r="2.5"/><circle cx="188" cy="562.8" r="2.5"/><circle cx="197.4" cy="556" r="2.5"/><circle cx="193.1" cy="571.9" r="2.5"/><circle cx="210.8" cy="550.8" r="2.5"/><circle cx="214.7" cy="549.2" r="2.5"/><circle cx="210.5" cy="556.3" r="2.5"/><circle cx="169.4" cy="561.2" r="2.5"/><circle cx="170.1" cy="596.6" r="2.5"/><circle cx="146.8" cy="604.7" r="2.5"/><circle cx="157.3" cy="630.8" r="2.5"/><circle cx="166.3" cy="593.7" r="2.5"/><circle cx="164.4" cy="594.7" r="2.5"/><circle cx="152.8" cy="611.9" r="2.5"/><circle cx="181.3" cy="554.6" r="2.5"/><circle cx="177.3" cy="606.8" r="2.5"/><circle cx="164.8" cy="628.7" r="2.5"/><circle cx="195.4" cy="587.4" r="2.5"/><circle cx="183.6" cy="591.7" r="2.5"/><circle cx="167.9" cy="574.3" r="2.5"/><circle cx="178.8" cy="585.9" r="2.5"/><circle cx="175" cy="546.8" r="2.5"/><circle cx="177.1" cy="541.9" r="2.5"/><circle cx="162.8" cy="603.2" r="2.5"/><circle cx="168.2" cy="576.7" r="2.5"/><circle cx="197.8" cy="585.4" r="2.5"/><circle cx="164.3" cy="610.4" r="2.5"/><circle cx="199.1" cy="564.9" r="2.5"/><circle cx="202.5" cy="598.5" r="2.5"/><circle cx="180.4" cy="582.8" r="2.5"/><circle cx="161.7" cy="592.5" r="2.5"/><circle cx="184.9" cy="592" r="2.5"/><circle cx="177" cy="585.1" r="2.5"/><circle cx="194" cy="608.8" r="2.5"/><circle cx="157.6" cy="604.6" r="2.5"/><circle cx="165.4" cy="623.6" r="2.5"/><circle cx="202.1" cy="569.5" r="2.5"/><circle cx="167.1" cy="571.1" r="2.5"/><circle cx="177.5" cy="612.8" r="2.5"/><circle cx="156.4" cy="630.8" r="2.5"/><circle cx="186.9" cy="604.8" r="2.5"/><circle cx="172.5" cy="564.5" r="2.5"/><circle cx="150.8" cy="616.7" r="2.5"/><circle cx="180.8" cy="576.1" r="2.5"/><circle cx="181.3" cy="576.1" r="2.5"/><circle cx="172.1" cy="581.4" r="2.5"/><circle cx="159.6" cy="586.6" r="2.5"/><circle cx="199.2" cy="587.6" r="2.5"/><circle cx="185.3" cy="584.9" r="2.5"/><circle cx="197.8" cy="562.3" r="2.5"/><circle cx="181.9" cy="560" r="2.5"/><circle cx="170.5" cy="619.6" r="2.5"/><circle cx="190.9" cy="547.7" r="2.5"/><circle cx="171.6" cy="592.6" r="2.5"/><circle cx="148.9" cy="590.8" r="2.5"/><circle cx="143.6" cy="631.4" r="2.5"/><circle cx="201.8" cy="575.6" r="2.5"/><circle cx="223.8" cy="576.4" r="2.5"/><circle cx="131.5" cy="643.2" r="2.5"/><circle cx="205" cy="611" r="2.5"/><circle cx="136.2" cy="622" r="2.5"/><circle cx="156" cy="567" r="2.5"/><circle cx="129.6" cy="624.2" r="2.5"/></g>
<g fill="#0404f4"><circle cx="130" cy="550.6" r="2.65"/><circle cx="144.9" cy="584.4" r="2.65"/><circle cx="120.8" cy="577" r="2.65"/><circle cx="140.5" cy="589.7" r="2.65"/><circle cx="163.3" cy="566.8" r="2.65"/><circle cx="173.9" cy="572.1" r="2.65"/><circle cx="146.2" cy="616.5" r="2.65"/><circle cx="122.1" cy="627.1" r="2.65"/><circle cx="140.2" cy="589.8" r="2.65"/><circle cx="118.2" cy="559.7" r="2.65"/><circle cx="135.8" cy="586.2" r="2.65"/><circle cx="153.6" cy="588.1" r="2.65"/><circle cx="137.7" cy="583.8" r="2.65"/><circle cx="142.3" cy="552" r="2.65"/><circle cx="160.1" cy="594.5" r="2.65"/><circle cx="178.1" cy="553.2" r="2.65"/><circle cx="161.7" cy="597.2" r="2.65"/><circle cx="164.2" cy="600.7" r="2.65"/><circle cx="143.1" cy="584.5" r="2.65"/><circle cx="125.5" cy="611.8" r="2.65"/><circle cx="152.5" cy="601.8" r="2.65"/><circle cx="134.3" cy="561.5" r="2.65"/><circle cx="144.8" cy="551.5" r="2.65"/><circle cx="146.1" cy="586.6" r="2.65"/><circle cx="162.8" cy="582.8" r="2.65"/><circle cx="114.7" cy="606.8" r="2.65"/><circle cx="123.5" cy="602.3" r="2.65"/><circle cx="133.4" cy="552" r="2.65"/><circle cx="157.1" cy="593.6" r="2.65"/><circle cx="120.9" cy="616.6" r="2.65"/><circle cx="151.5" cy="577.9" r="2.65"/><circle cx="133" cy="602.3" r="2.65"/><circle cx="125.8" cy="574.8" r="2.65"/><circle cx="143.5" cy="572.9" r="2.65"/><circle cx="168.8" cy="534.8" r="2.65"/><circle cx="144.7" cy="596.8" r="2.65"/><circle cx="140.5" cy="596.6" r="2.65"/><circle cx="135.4" cy="558.9" r="2.65"/><circle cx="118" cy="629.8" r="2.65"/><circle cx="148.8" cy="569.2" r="2.65"/><circle cx="115.7" cy="579.6" r="2.65"/><circle cx="136.5" cy="575.5" r="2.65"/><circle cx="126.6" cy="578.6" r="2.65"/><circle cx="144.5" cy="594.3" r="2.65"/><circle cx="131.3" cy="564.7" r="2.65"/><circle cx="178.3" cy="551.7" r="2.65"/><circle cx="159.6" cy="582.5" r="2.65"/><circle cx="168.4" cy="581" r="2.65"/><circle cx="153.6" cy="585.8" r="2.65"/><circle cx="168.5" cy="580" r="2.65"/><circle cx="148.4" cy="605" r="2.65"/><circle cx="137.2" cy="556.1" r="2.65"/><circle cx="109" cy="613" r="2.65"/><circle cx="106.2" cy="572.9" r="2.65"/><circle cx="144" cy="588.4" r="2.65"/><circle cx="153.9" cy="552.5" r="2.65"/><circle cx="141.4" cy="553.2" r="2.65"/><circle cx="136.3" cy="605.5" r="2.65"/><circle cx="126.2" cy="600.2" r="2.65"/><circle cx="148.9" cy="564.8" r="2.65"/><circle cx="127.2" cy="590.9" r="2.65"/><circle cx="147.1" cy="571.8" r="2.65"/><circle cx="120.4" cy="610.5" r="2.65"/><circle cx="132.2" cy="602.6" r="2.65"/><circle cx="145.2" cy="609.5" r="2.65"/><circle cx="163.4" cy="584.9" r="2.65"/><circle cx="149" cy="585.9" r="2.65"/><circle cx="140.7" cy="620.3" r="2.65"/><circle cx="147.1" cy="544.7" r="2.65"/><circle cx="169.4" cy="572.2" r="2.65"/><circle cx="143.8" cy="604.7" r="2.65"/><circle cx="117.5" cy="555.1" r="2.65"/><circle cx="145.6" cy="598.5" r="2.65"/><circle cx="159.8" cy="570" r="2.65"/><circle cx="162.8" cy="582.8" r="2.65"/><circle cx="162.5" cy="560.3" r="2.65"/><circle cx="153.7" cy="590.2" r="2.65"/><circle cx="153.5" cy="557.3" r="2.65"/><circle cx="134.3" cy="599.8" r="2.65"/><circle cx="162.5" cy="551" r="2.65"/><circle cx="136.4" cy="568" r="2.65"/><circle cx="146.8" cy="560.1" r="2.65"/><circle cx="139.6" cy="547.9" r="2.65"/><circle cx="137.4" cy="586" r="2.65"/><circle cx="141" cy="583.2" r="2.65"/><circle cx="124.2" cy="609.5" r="2.65"/><circle cx="165.3" cy="564" r="2.65"/><circle cx="138.6" cy="569.8" r="2.65"/><circle cx="159.8" cy="619.3" r="2.65"/><circle cx="124.6" cy="629.6" r="2.65"/><circle cx="139.8" cy="564.1" r="2.65"/><circle cx="150.5" cy="599.2" r="2.65"/><circle cx="142" cy="569.4" r="2.65"/><circle cx="170.2" cy="541.7" r="2.65"/><circle cx="140" cy="588.1" r="2.65"/><circle cx="153.2" cy="599" r="2.65"/><circle cx="142.6" cy="589.8" r="2.65"/><circle cx="163.2" cy="605.2" r="2.65"/><circle cx="174.5" cy="554.5" r="2.65"/><circle cx="132" cy="583.7" r="2.65"/><circle cx="145" cy="521" r="2.65"/><circle cx="163" cy="635" r="2.65"/><circle cx="178" cy="556" r="2.65"/><circle cx="182.4" cy="622" r="2.65"/><circle cx="171.9" cy="580.7" r="2.65"/><circle cx="156" cy="622" r="2.65"/></g>
<path d="M57.2 513.8V665L208.9 681.4L265.4 641.2" fill="none" stroke="#7d7d7d" stroke-width="1"/>
<text x="52.2" y="526.5" font-size="9.3" text-anchor="end" class="sa" fill="#222">0.6</text>
<text x="52.2" y="542.9" font-size="9.3" text-anchor="end" class="sa" fill="#222">0.55</text>
<text x="52.2" y="559.3" font-size="9.3" text-anchor="end" class="sa" fill="#222">0.5</text>
<text x="52.2" y="575.7" font-size="9.3" text-anchor="end" class="sa" fill="#222">0.45</text>
<text x="52.2" y="592.1" font-size="9.3" text-anchor="end" class="sa" fill="#222">0.4</text>
<text x="52.2" y="608.5" font-size="9.3" text-anchor="end" class="sa" fill="#222">0.35</text>
<text x="52.2" y="624.9" font-size="9.3" text-anchor="end" class="sa" fill="#222">0.3</text>
<text x="52.2" y="641.3" font-size="9.3" text-anchor="end" class="sa" fill="#222">0.25</text>
<text x="52.2" y="657.7" font-size="9.3" text-anchor="end" class="sa" fill="#222">0.2</text>
<path d="M57.2 523.2h-3M57.2 539.6h-3M57.2 556h-3M57.2 572.4h-3M57.2 588.8h-3M57.2 605.2h-3M57.2 621.6h-3M57.2 638h-3M57.2 654.4h-3M83.5 667.8l-1.6 2.6M126.5 672.5l-1.6 2.6M170 677.2l-1.6 2.6M212.5 678.8l3 .4M238 660.7l3 .4M263.5 642.6l3 .4" stroke="#7d7d7d" stroke-width="1" fill="none"/>
<text x="76.3" y="679.8" font-size="9.3" text-anchor="middle" class="sa" fill="#222">1</text>
<text x="116.5" y="684.2" font-size="9.3" text-anchor="middle" class="sa" fill="#222">1.5</text>
<text x="163" y="688.4" font-size="9.3" text-anchor="middle" class="sa" fill="#222">2</text>
<text x="223.1" y="685.4" font-size="9.3" text-anchor="middle" class="sa" fill="#222">5</text>
<text x="248.5" y="668.4" font-size="9.3" text-anchor="middle" class="sa" fill="#222">6</text>
<text x="273.8" y="651.2" font-size="9.3" text-anchor="middle" class="sa" fill="#222">7</text>
<text x="62.4" y="701" font-size="8.8" textLength="78.3" lengthAdjust="spacingAndGlyphs">The second dimension</text>
<text x="237" y="702.3" font-size="8.8" textLength="68.3" lengthAdjust="spacingAndGlyphs">The first dimension</text>
<text x="27.6" y="590.6" font-size="8.8" text-anchor="middle" textLength="70.5" lengthAdjust="spacingAndGlyphs" transform="rotate(-90 27.6 590.6)">The third dimension</text>
<rect x="226.2" y="482.2" width="61.4" height="30.4" fill="#fff" stroke="#333" stroke-width=".9"/>
<circle cx="245.6" cy="490.4" r="2.7" fill="none" stroke="#f30606" stroke-width="1.5"/>
<circle cx="245.6" cy="503.8" r="2.7" fill="#0404f4"/>
<text x="262.8" y="493.8" font-size="9" class="sa" textLength="20.8" lengthAdjust="spacingAndGlyphs">DJI 3</text>
<text x="262.8" y="507.2" font-size="9" class="sa" textLength="20.8" lengthAdjust="spacingAndGlyphs">DJI 2</text>
</g>
<g id="texture">
<text x="408" y="464" font-size="10.8" textLength="150" lengthAdjust="spacingAndGlyphs">Texture characteristic distribution</text>
<path d="M359.8 668.2L423.4 635.3L606 646.5M359.8 647L423.4 614.1L606 625.3M359.8 625.8L423.4 592.9L606 604.1M359.8 604.6L423.4 571.7L606 582.9M359.8 583.4L423.4 550.5L606 561.7M359.8 562.2L423.4 529.3L606 540.5M359.8 541L423.4 508.1L606 519.3M359.8 519.8L423.4 486.9L606 498.1M428.9 636.8V467.4M428.9 636.8L365.3 669.7M498.3 641.1V471.7M498.3 641.1L434.7 674M558.5 644.8V475.4M558.5 644.8L494.9 677.7M375.7 661.2V492.7M375.7 661.2L558.3 672.4M407.5 644.7V476.2M407.5 644.7L590.1 655.9M359.8 669.4L423.4 636.5L606 647.7" stroke="#e6e6e6" stroke-width=".9" fill="none"/>
<path d="M359.8 501.3L423.4 467.1L606 479.6V647.7M423.4 467.1V636.5M359.8 669.4L423.4 636.5L606 647.7" stroke="#808080" stroke-width="1" fill="none"/>
<path d="M429.8 492.8h5.8M432.7 489.9v5.8M453.1 491.8h5.8M456 488.9v5.8M476.9 491.3h5.8M479.8 488.4v5.8M430.7 498.6h5.8M433.6 495.7v5.8M433.4 502.1h5.8M436.3 499.2v5.8M449.9 498h5.8M452.8 495.1v5.8M453.1 498h5.8M456 495.1v5.8M476.9 500.7h5.8M479.8 497.8v5.8M436.5 506.3h5.8M439.4 503.4v5.8M440.6 508.3h5.8M443.5 505.4v5.8M443.7 506.9h5.8M446.6 504v5.8M452 507.3h5.8M454.9 504.4v5.8M453.1 505.2h5.8M456 502.3v5.8M484.1 509h5.8M487 506.1v5.8M430.3 513.5h5.8M433.2 510.6v5.8M436.5 514.6h5.8M439.4 511.7v5.8M441.7 513.5h5.8M444.6 510.6v5.8M446.8 514.6h5.8M449.7 511.7v5.8M449.9 516.6h5.8M452.8 513.7v5.8M457.2 516.6h5.8M460.1 513.7v5.8M463.4 514.6h5.8M466.3 511.7v5.8M467.6 515.2h5.8M470.5 512.3v5.8M501.8 515.6h5.8M504.7 512.7v5.8M430.3 519.7h5.8M433.2 516.8v5.8M441.7 520.8h5.8M444.6 517.9v5.8M446.8 519.7h5.8M449.7 516.8v5.8M452 519.7h5.8M454.9 516.8v5.8M459.3 519.7h5.8M462.2 516.8v5.8M465.5 519.7h5.8M468.4 516.8v5.8M468.6 523.9h5.8M471.5 521v5.8M482.1 519.7h5.8M485 516.8v5.8M490.4 518.7h5.8M493.3 515.8v5.8M441.7 526h5.8M444.6 523.1v5.8M446.8 527h5.8M449.7 524.1v5.8M457.2 524.9h5.8M460.1 522v5.8M463.4 528h5.8M466.3 525.1v5.8M469.6 528h5.8M472.5 525.1v5.8M475.9 523.9h5.8M478.8 521v5.8M488.3 524.9h5.8M491.2 522v5.8M496.6 522.8h5.8M499.5 519.9v5.8M514.2 524.3h5.8M517.1 521.4v5.8M523.5 522.8h5.8M526.4 519.9v5.8M449.9 530.1h5.8M452.8 527.2v5.8M460.3 532.2h5.8M463.2 529.3v5.8M465.5 531.1h5.8M468.4 528.2v5.8M468.6 530.1h5.8M471.5 527.2v5.8M525.6 527.6h5.8M528.5 524.7v5.8M513.2 532.2h5.8M516.1 529.3v5.8M470.7 540.5h5.8M473.6 537.6v5.8M499.7 549.8h5.8M502.6 546.9v5.8M515.2 542.5h5.8M518.1 539.6v5.8M526.6 545h5.8M529.5 542.1v5.8M521.5 538.4h5.8M524.4 535.5v5.8M437.5 510.4h5.8M440.4 507.5v5.8M459.3 524.3h5.8M462.2 521.4v5.8M492.4 529.1h5.8M495.3 526.2v5.8M504.9 530.1h5.8M507.8 527.2v5.8M519.4 532.2h5.8M522.3 529.3v5.8M510.1 529.1h5.8M513 526.2v5.8M501.7 536.6h5.8M504.6 533.7v5.8M484.2 537.4h5.8M487.1 534.5v5.8M489.5 538.4h5.8M492.4 535.5v5.8M502.6 540.8h5.8M505.5 537.9v5.8M499.9 541.3h5.8M502.8 538.4v5.8M503.1 537.6h5.8M506 534.7v5.8M493.2 535h5.8M496.1 532.1v5.8M473.5 539.9h5.8M476.4 537v5.8M493.8 539.2h5.8M496.7 536.3v5.8M501 533.3h5.8M503.9 530.4v5.8M485.9 535.2h5.8M488.8 532.3v5.8M510.5 536h5.8M513.4 533.1v5.8M497.9 534.7h5.8M500.8 531.8v5.8M477.8 537.8h5.8M480.7 534.9v5.8M494.6 539.5h5.8M497.5 536.6v5.8M474.2 541.1h5.8M477.1 538.2v5.8M483.7 537.4h5.8M486.6 534.5v5.8M491.2 536.9h5.8M494.1 534v5.8M502.6 540.1h5.8M505.5 537.2v5.8M500.8 535.6h5.8M503.7 532.7v5.8M502 538.5h5.8M504.9 535.6v5.8M508.3 537.5h5.8M511.2 534.6v5.8M472.9 537.7h5.8M475.8 534.8v5.8M490.2 541.4h5.8M493.1 538.5v5.8M494 541h5.8M496.9 538.1v5.8M500.2 533.5h5.8M503.1 530.6v5.8M496.6 539.6h5.8M499.5 536.7v5.8M501.8 532.4h5.8M504.7 529.5v5.8M502.1 535.3h5.8M505 532.4v5.8M511.1 537.8h5.8M514 534.9v5.8M523.1 536.2h5.8M526 533.3v5.8M496.9 534.9h5.8M499.8 532v5.8M510.9 536.1h5.8M513.8 533.2v5.8M499 539h5.8M501.9 536.1v5.8M487.6 539.4h5.8M490.5 536.5v5.8M498.4 539.4h5.8M501.3 536.5v5.8M488.3 538.5h5.8M491.2 535.6v5.8M471.4 538.9h5.8M474.3 536v5.8M496.7 541.5h5.8M499.6 538.6v5.8M509.8 534.6h5.8M512.7 531.7v5.8M480.1 545.5h5.8M483 542.6v5.8M491.3 535.4h5.8M494.2 532.5v5.8M487.4 533.1h5.8M490.3 530.2v5.8M490.1 536.8h5.8M493 533.9v5.8M492.8 541.7h5.8M495.7 538.8v5.8M499.5 533.5h5.8M502.4 530.6v5.8M471.2 538.6h5.8M474.1 535.7v5.8M512.9 539.3h5.8M515.8 536.4v5.8M487.8 542.6h5.8M490.7 539.7v5.8M502.6 535.3h5.8M505.5 532.4v5.8M502.6 537h5.8M505.5 534.1v5.8M480.2 538.1h5.8M483.1 535.2v5.8M498.7 542h5.8M501.6 539.1v5.8M481.4 540.2h5.8M484.3 537.3v5.8M496.7 537.7h5.8M499.6 534.8v5.8M478.7 543.9h5.8M481.6 541v5.8M515.3 541.3h5.8M518.2 538.4v5.8M503.3 542.2h5.8M506.2 539.3v5.8M504.4 540.5h5.8M507.3 537.6v5.8M491.7 539.1h5.8M494.6 536.2v5.8M491.8 534.9h5.8M494.7 532v5.8M490.2 534.8h5.8M493.1 531.9v5.8M480.3 538.3h5.8M483.2 535.4v5.8M522.4 538.9h5.8M525.3 536v5.8M508.1 533.9h5.8M511 531v5.8M500.7 532.7h5.8M503.6 529.8v5.8M487.5 537.2h5.8M490.4 534.3v5.8M491.3 541.3h5.8M494.2 538.4v5.8M489.2 541.5h5.8M492.1 538.6v5.8M473.6 543.3h5.8M476.5 540.4v5.8M478.7 540.4h5.8M481.6 537.5v5.8M496.6 540.7h5.8M499.5 537.8v5.8M505.6 538.4h5.8M508.5 535.5v5.8M494.5 544.7h5.8M497.4 541.8v5.8M490 538.7h5.8M492.9 535.8v5.8M489.8 539.1h5.8M492.7 536.2v5.8M482.7 538h5.8M485.6 535.1v5.8M504.1 535.3h5.8M507 532.4v5.8M503.5 535.3h5.8M506.4 532.4v5.8M517.4 535.4h5.8M520.3 532.5v5.8M522.4 537h5.8M525.3 534.1v5.8M494.8 541.3h5.8M497.7 538.4v5.8M513.7 541.3h5.8M516.6 538.4v5.8M517 538.9h5.8M519.9 536v5.8M479.6 542.8h5.8M482.5 539.9v5.8M495.4 539.4h5.8M498.3 536.5v5.8M515.2 533.7h5.8M518.1 530.8v5.8M504.8 536.1h5.8M507.7 533.2v5.8M516.8 536.5h5.8M519.7 533.6v5.8M512.1 540.6h5.8M515 537.7v5.8M474.6 541.2h5.8M477.5 538.3v5.8" stroke="#fb08fb" stroke-width="1.15" fill="none"/>
<g fill="#f00808"><circle cx="422.4" cy="524.9" r="3.4"/><circle cx="420.7" cy="532.2" r="3.4"/><circle cx="423.8" cy="532.2" r="3.4"/><circle cx="421.8" cy="537.4" r="3.4"/><circle cx="426.9" cy="537.4" r="3.4"/><circle cx="430.7" cy="537.4" r="3.4"/><circle cx="438.3" cy="537.8" r="3.4"/><circle cx="422.8" cy="541.5" r="3.4"/><circle cx="425.9" cy="542.5" r="3.4"/><circle cx="429" cy="541.5" r="3.4"/><circle cx="423.8" cy="546.7" r="3.4"/><circle cx="428" cy="546.7" r="3.4"/><circle cx="431.1" cy="547.7" r="3.4"/><circle cx="424.9" cy="551.9" r="3.4"/><circle cx="429" cy="551.9" r="3.4"/><circle cx="433.2" cy="552.9" r="3.4"/><circle cx="425.9" cy="557" r="3.4"/><circle cx="430.1" cy="557" r="3.4"/><circle cx="434.2" cy="555" r="3.4"/><circle cx="426.9" cy="561.2" r="3.4"/><circle cx="431.1" cy="561.2" r="3.4"/><circle cx="429" cy="564.3" r="3.4"/><circle cx="423.2" cy="549.8" r="3.4"/><circle cx="426.5" cy="554.6" r="3.4"/><circle cx="431.5" cy="559.1" r="3.4"/><circle cx="442.5" cy="574.7" r="3.4"/><circle cx="448.7" cy="579.8" r="3.4"/><circle cx="447.7" cy="584" r="3.4"/><circle cx="443.5" cy="586.1" r="3.4"/><circle cx="442.5" cy="590.2" r="3.4"/><circle cx="444.6" cy="591.2" r="3.4"/><circle cx="428.6" cy="581.9" r="3.4"/><circle cx="468" cy="564.7" r="3.4"/><circle cx="471.5" cy="569.5" r="3.4"/><circle cx="473.6" cy="572.6" r="3.4"/><circle cx="472.5" cy="575.7" r="3.4"/><circle cx="477.7" cy="571.6" r="3.4"/><circle cx="481.9" cy="567.4" r="3.4"/><circle cx="482.9" cy="571.6" r="3.4"/><circle cx="487" cy="573.6" r="3.4"/><circle cx="493.3" cy="578.2" r="3.4"/><circle cx="460.1" cy="582.5" r="3.4"/><circle cx="467.4" cy="584" r="3.4"/><circle cx="472.5" cy="585" r="3.4"/><circle cx="474.6" cy="587.1" r="3.4"/><circle cx="478.8" cy="590.2" r="3.4"/><circle cx="474.6" cy="593.9" r="3.4"/><circle cx="486" cy="590.2" r="3.4"/><circle cx="487" cy="594.4" r="3.4"/><circle cx="489.1" cy="596.4" r="3.4"/><circle cx="479.8" cy="604.7" r="3.4"/><circle cx="498.4" cy="588.1" r="3.4"/><circle cx="496.4" cy="592.3" r="3.4"/><circle cx="499.5" cy="594.4" r="3.4"/><circle cx="501.6" cy="596.4" r="3.4"/><circle cx="503.6" cy="594.4" r="3.4"/><circle cx="505.7" cy="598.5" r="3.4"/><circle cx="507.8" cy="595.4" r="3.4"/><circle cx="511.9" cy="596.4" r="3.4"/><circle cx="511.9" cy="600.6" r="3.4"/><circle cx="509.8" cy="603.7" r="3.4"/><circle cx="515" cy="604.7" r="3.4"/><circle cx="519.2" cy="607.8" r="3.4"/><circle cx="524.4" cy="613" r="3.4"/><circle cx="535.8" cy="616.1" r="3.4"/><circle cx="542.6" cy="616.7" r="3.4"/><circle cx="493.1" cy="638.1" r="3.4"/><circle cx="512.7" cy="650.5" r="3.4"/></g>
<path d="M449.5 598.8h5.6l-2.8 4.8zM448.6 602.9h5.6l-2.8 4.8zM436.3 588.6h5.6l-2.8 4.8zM433.7 589.9h5.6l-2.8 4.8zM446.7 603.6h5.6l-2.8 4.8zM441.3 599.9h5.6l-2.8 4.8zM456.6 608.4h5.6l-2.8 4.8zM465.7 613.8h5.6l-2.8 4.8zM430.1 588.6h5.6l-2.8 4.8zM460 612.9h5.6l-2.8 4.8zM454.4 605.8h5.6l-2.8 4.8zM434.9 589.6h5.6l-2.8 4.8zM435.6 594.9h5.6l-2.8 4.8zM448.3 604.2h5.6l-2.8 4.8zM438 591.2h5.6l-2.8 4.8zM435.4 585.4h5.6l-2.8 4.8zM459.8 616.8h5.6l-2.8 4.8zM439.3 594.4h5.6l-2.8 4.8zM461.9 616.1h5.6l-2.8 4.8zM431.5 582h5.6l-2.8 4.8zM441.9 595.8h5.6l-2.8 4.8zM445 595.4h5.6l-2.8 4.8zM453 606.4h5.6l-2.8 4.8zM433.5 587.2h5.6l-2.8 4.8zM447.1 603.1h5.6l-2.8 4.8zM434.6 586.9h5.6l-2.8 4.8zM432.1 585.4h5.6l-2.8 4.8zM450.8 601.7h5.6l-2.8 4.8zM447.1 603h5.6l-2.8 4.8zM462.8 619.5h5.6l-2.8 4.8zM441.6 598.7h5.6l-2.8 4.8zM438.8 592.3h5.6l-2.8 4.8zM452.5 609h5.6l-2.8 4.8zM431.6 582.4h5.6l-2.8 4.8zM455.9 609.3h5.6l-2.8 4.8zM465.7 620h5.6l-2.8 4.8zM434.2 586.1h5.6l-2.8 4.8zM457 607.5h5.6l-2.8 4.8zM445.4 603.1h5.6l-2.8 4.8zM460.9 615h5.6l-2.8 4.8zM434.7 585.4h5.6l-2.8 4.8zM431.3 582.9h5.6l-2.8 4.8zM438.6 590.6h5.6l-2.8 4.8zM433.2 586.7h5.6l-2.8 4.8zM457.4 608.9h5.6l-2.8 4.8zM450 599.9h5.6l-2.8 4.8zM433.6 584.7h5.6l-2.8 4.8zM445 602.8h5.6l-2.8 4.8zM443 596.2h5.6l-2.8 4.8zM438.1 591h5.6l-2.8 4.8zM459 616h5.6l-2.8 4.8zM457.4 611.9h5.6l-2.8 4.8zM452.3 602.7h5.6l-2.8 4.8zM439.2 597.2h5.6l-2.8 4.8zM443.4 600.2h5.6l-2.8 4.8zM462.6 612.4h5.6l-2.8 4.8zM434.3 589h5.6l-2.8 4.8zM458.5 606.8h5.6l-2.8 4.8zM430.7 586h5.6l-2.8 4.8zM429.4 589h5.6l-2.8 4.8zM457.1 610.9h5.6l-2.8 4.8zM442.7 593.6h5.6l-2.8 4.8zM432.3 586.8h5.6l-2.8 4.8zM424.3 579.3h5.6l-2.8 4.8zM456 609.1h5.6l-2.8 4.8zM446.5 599.7h5.6l-2.8 4.8zM448.1 599.6h5.6l-2.8 4.8zM437.2 589h5.6l-2.8 4.8zM455.7 611.2h5.6l-2.8 4.8zM439.3 597.8h5.6l-2.8 4.8zM441.1 594.7h5.6l-2.8 4.8zM456.5 612.5h5.6l-2.8 4.8zM465.9 617.2h5.6l-2.8 4.8zM455.8 609.5h5.6l-2.8 4.8zM455 605.8h5.6l-2.8 4.8zM465.3 616.4h5.6l-2.8 4.8zM462.2 617.3h5.6l-2.8 4.8zM441.3 600.4h5.6l-2.8 4.8zM449.2 603.1h5.6l-2.8 4.8zM459.1 618.6h5.6l-2.8 4.8zM448.5 604.8h5.6l-2.8 4.8zM435.4 587.2h5.6l-2.8 4.8zM440.6 593.7h5.6l-2.8 4.8zM443.5 592.8h5.6l-2.8 4.8zM453.2 604.8h5.6l-2.8 4.8zM431.1 584.8h5.6l-2.8 4.8zM459.4 620.1h5.6l-2.8 4.8zM439.1 592.2h5.6l-2.8 4.8zM453 612h5.6l-2.8 4.8zM460.6 612.3h5.6l-2.8 4.8zM465.2 620.7h5.6l-2.8 4.8zM454.8 607.3h5.6l-2.8 4.8zM443.4 599.5h5.6l-2.8 4.8zM428.8 584.6h5.6l-2.8 4.8zM457.2 611.4h5.6l-2.8 4.8zM433.9 587.2h5.6l-2.8 4.8zM458.5 614.4h5.6l-2.8 4.8zM451.1 608.7h5.6l-2.8 4.8zM451.9 610.2h5.6l-2.8 4.8zM452.8 601.7h5.6l-2.8 4.8zM460.3 613.3h5.6l-2.8 4.8zM446.1 596.6h5.6l-2.8 4.8zM456.6 605.4h5.6l-2.8 4.8zM446.4 601.1h5.6l-2.8 4.8zM443.9 594.6h5.6l-2.8 4.8zM457.2 613.6h5.6l-2.8 4.8zM459.1 613.3h5.6l-2.8 4.8zM431.5 580.9h5.6l-2.8 4.8zM434.8 585.3h5.6l-2.8 4.8zM456 608.2h5.6l-2.8 4.8z" fill="#ffff58" stroke="#f5f53a" stroke-width=".9"/>
<path d="M434.2 562.6C435.6 562.3 436.5 563.9 437.7 564.9C438.9 566 440.7 567.8 441.5 569.1C442.2 570.3 442.7 571.3 442.5 572.6C442.3 573.9 441.1 575.5 440.4 576.7C439.7 578 439.4 579.5 438.3 580.3C437.3 581.1 435.8 581.5 434.2 581.5C432.6 581.5 430.3 581.2 429 580.3C427.7 579.4 426.9 577.6 426.5 576.1C426.1 574.7 426.1 573.1 426.5 571.6C426.9 570 427.7 568.5 429 567C430.3 565.5 432.7 563 434.2 562.6Z" fill="#1d2f8e"/>
<g fill="#f00808"><circle cx="442.7" cy="575.1" r="3.1"/><circle cx="427.4" cy="582.1" r="3.1"/></g>
<path d="M359.8 501.3V669.4L544.3 683L606 647.7" fill="none" stroke="#5a5a5a" stroke-width="1"/>
<text x="351.2" y="523.4" font-size="10" text-anchor="end" fill="#222">0.5</text>
<text x="351.2" y="544.6" font-size="10" text-anchor="end" fill="#222">0.45</text>
<text x="351.2" y="565.8" font-size="10" text-anchor="end" fill="#222">0.4</text>
<text x="351.2" y="587" font-size="10" text-anchor="end" fill="#222">0.35</text>
<text x="351.2" y="608.2" font-size="10" text-anchor="end" fill="#222">0.3</text>
<text x="351.2" y="629.4" font-size="10" text-anchor="end" fill="#222">0.25</text>
<text x="351.2" y="650.6" font-size="10" text-anchor="end" fill="#222">0.2</text>
<text x="351.2" y="671.8" font-size="10" text-anchor="end" fill="#222">0.15</text>
<path d="M359.8 520h-4.6M359.8 541.2h-4.6M359.8 562.4h-4.6M359.8 583.6h-4.6M359.8 604.8h-4.6M359.8 626h-4.6M359.8 647.2h-4.6M359.8 668.4h-4.6M369 670.6l-2.4 3.6M433.5 675.2l-2.4 3.6M497 679.7l-2.4 3.6M598 652.3l4 1.2M569.5 668.6l4 1.2" stroke="#5a5a5a" stroke-width="1" fill="none"/>
<text x="355.8" y="686.2" font-size="10" text-anchor="middle" fill="#222">3.5</text>
<text x="426" y="690.4" font-size="10" text-anchor="middle" fill="#222">3</text>
<text x="485.8" y="695" font-size="10" text-anchor="middle" fill="#222">2.5</text>
<text x="620.4" y="658.4" font-size="10" text-anchor="middle" fill="#222">0.8</text>
<text x="589.2" y="676.4" font-size="10" text-anchor="middle" fill="#222">0.9</text>
<text x="429.8" y="707.3" font-size="10.5" textLength="15" lengthAdjust="spacingAndGlyphs">Ent</text>
<text x="573" y="685.6" font-size="10.5" textLength="19" lengthAdjust="spacingAndGlyphs">Asm</text>
<text x="328.6" y="587" font-size="10.5" text-anchor="middle" transform="rotate(-90 328.6 587)">Con</text>
<rect x="533.8" y="484.4" width="71.8" height="66.4" fill="#fff" stroke="#444" stroke-width=".9"/>
<path d="M549.4 493.6h5.6M552.2 490.8v5.6M550.2 491.6l4 4M554.2 491.6l-4 4" stroke="#1d2f8e" stroke-width="1.3" fill="none"/>
<path d="M549 507.8h6.4l-3.2 5.4z" fill="#ffff58" stroke="#f5f53a" stroke-width=".9"/>
<path d="M549.2 525.7h6M552.2 522.7v6" stroke="#fb08fb" stroke-width="1.15" fill="none"/>
<circle cx="552.2" cy="541.9" r="3.4" fill="#f00808"/>
<text x="570.5" y="498.6" font-size="13.5" textLength="21.8" lengthAdjust="spacingAndGlyphs">DJ2</text>
<text x="570.5" y="514.8" font-size="13.5" textLength="21.8" lengthAdjust="spacingAndGlyphs">DJ3</text>
<text x="570.5" y="530.6" font-size="13.5" textLength="31.6" lengthAdjust="spacingAndGlyphs">Syma</text>
<text x="571.2" y="546.8" font-size="13.5" textLength="28.6" lengthAdjust="spacingAndGlyphs">Tello</text>
</g>
<g id="bars">
<rect x="811.8" y="506.3" width="60.2" height="189.3" fill="#FFA07A"/>
<text x="841.9" y="500.1" font-size="12.4" text-anchor="middle" font-weight="bold">100.0</text>
<text x="841.9" y="710.6" font-size="10.4" text-anchor="middle" font-weight="bold">DJI2</text>
<rect x="887.3" y="506.3" width="60.3" height="189.3" fill="#6495ED"/>
<text x="917.5" y="500.1" font-size="12.4" text-anchor="middle" font-weight="bold">100.0</text>
<text x="917.5" y="710.6" font-size="10.4" text-anchor="middle" font-weight="bold">DJI3</text>
<rect x="963" y="508.9" width="60.2" height="186.7" fill="#8FBC8F"/>
<text x="993.1" y="502.7" font-size="12.4" text-anchor="middle" font-weight="bold">98.67</text>
<text x="993.1" y="710.6" font-size="10.4" text-anchor="middle" font-weight="bold">Syma</text>
<rect x="1038.6" y="519.6" width="60.7" height="176" fill="#CD853F"/>
<text x="1068.9" y="513.4" font-size="12.4" text-anchor="middle" font-weight="bold">93.33</text>
<text x="1068.9" y="710.6" font-size="10.4" text-anchor="middle" font-weight="bold">Tello</text>
<text x="792" y="509.7" font-size="10" text-anchor="end" font-weight="bold">100</text>
<text x="792" y="549.5" font-size="10" text-anchor="end" font-weight="bold">80</text>
<text x="792" y="589.4" font-size="10" text-anchor="end" font-weight="bold">60</text>
<text x="792" y="629.2" font-size="10" text-anchor="end" font-weight="bold">40</text>
<text x="792" y="669" font-size="10" text-anchor="end" font-weight="bold">20</text>
<path d="M841.9 695.6v3.5M917.5 695.6v3.5M993.1 695.6v3.5M1068.9 695.6v3.5M798.9 506.3h-3.5M798.9 546.1h-3.5M798.9 586h-3.5M798.9 625.8h-3.5M798.9 665.6h-3.5" stroke="#000" stroke-width="1" fill="none"/>
<rect x="798.9" y="487.9" width="317.8" height="207.7" fill="none" stroke="#000" stroke-width="1.1"/>
<text x="957.5" y="724" font-size="10.4" text-anchor="middle" font-weight="bold" textLength="60.4" lengthAdjust="spacingAndGlyphs">Type of UAV</text>
<text x="767.4" y="592" font-size="10.2" text-anchor="middle" font-weight="bold" textLength="94.9" lengthAdjust="spacingAndGlyphs" transform="rotate(-90 767.4 592)">Recognition Rate (%)</text>
</g>
<g id="flow">
<line x1="313.4" y1="395.1" x2="313.4" y2="429" stroke="#000" stroke-width="3.2"/>
<polygon points="313.4,447.7 306.5,427.3 320.2,427.3" fill="#000"/>
<line x1="946.3" y1="437.4" x2="946.3" y2="458" stroke="#000" stroke-width="3.5"/>
<polygon points="946.3,473.2 938.8,457 953.8,457" fill="#000"/>
<path d="M623.4 541.5H642.1V198.6H657" fill="none" stroke="#000" stroke-width="3.6" stroke-linecap="round" stroke-linejoin="miter"/>
<polygon points="675.8,198.5 654.8,205.3 654.8,191.7" fill="#000"/>
<text x="225.8" y="750.7" font-size="24.5" textLength="192.2" lengthAdjust="spacingAndGlyphs">Feature extraction</text>
<text y="750.7" font-size="24.5"><tspan x="782.7" textLength="129.3" lengthAdjust="spacingAndGlyphs">Recognition</tspan><tspan x="912.3" font-weight="bold">：</tspan><tspan x="938.5" textLength="160.9" lengthAdjust="spacingAndGlyphs">Legal or Illegal</tspan><tspan x="1101">？</tspan></text>
</g>
</svg>
</body>
</html>
